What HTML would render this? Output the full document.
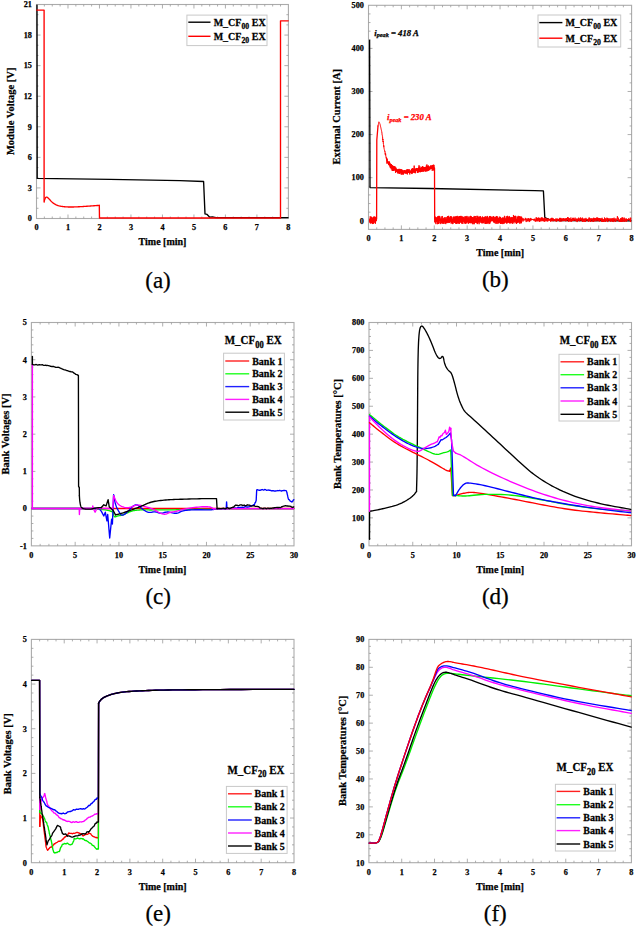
<!DOCTYPE html><html><head><meta charset="utf-8"><style>html,body{margin:0;padding:0;background:#fff;width:637px;height:927px;overflow:hidden}svg{display:block}text{font-family:"Liberation Serif",serif;stroke:currentColor;stroke-width:0.25px}.tl text{font-size:8.2px;font-weight:bold}.ax{font-size:10px;font-weight:bold}.lg{font-size:10px;font-weight:bold}.cap{font-size:23px}</style></head><body><svg width="637" height="927" viewBox="0 0 637 927">
<rect x="36.50" y="4.50" width="251.90" height="214.00" fill="none" stroke="#ababab" stroke-width="1.1"/>
<path d="M44.37 218.50v-2M44.37 4.50v2M52.24 218.50v-2M52.24 4.50v2M60.12 218.50v-2M60.12 4.50v2M67.99 218.50v-4M67.99 4.50v4M75.86 218.50v-2M75.86 4.50v2M83.73 218.50v-2M83.73 4.50v2M91.60 218.50v-2M91.60 4.50v2M99.47 218.50v-4M99.47 4.50v4M107.35 218.50v-2M107.35 4.50v2M115.22 218.50v-2M115.22 4.50v2M123.09 218.50v-2M123.09 4.50v2M130.96 218.50v-4M130.96 4.50v4M138.83 218.50v-2M138.83 4.50v2M146.71 218.50v-2M146.71 4.50v2M154.58 218.50v-2M154.58 4.50v2M162.45 218.50v-4M162.45 4.50v4M170.32 218.50v-2M170.32 4.50v2M178.19 218.50v-2M178.19 4.50v2M186.07 218.50v-2M186.07 4.50v2M193.94 218.50v-4M193.94 4.50v4M201.81 218.50v-2M201.81 4.50v2M209.68 218.50v-2M209.68 4.50v2M217.55 218.50v-2M217.55 4.50v2M225.42 218.50v-4M225.42 4.50v4M233.30 218.50v-2M233.30 4.50v2M241.17 218.50v-2M241.17 4.50v2M249.04 218.50v-2M249.04 4.50v2M256.91 218.50v-4M256.91 4.50v4M264.78 218.50v-2M264.78 4.50v2M272.66 218.50v-2M272.66 4.50v2M280.53 218.50v-2M280.53 4.50v2M36.50 208.31h2M288.40 208.31h-2M36.50 198.12h2M288.40 198.12h-2M36.50 187.93h4M288.40 187.93h-4M36.50 177.74h2M288.40 177.74h-2M36.50 167.55h2M288.40 167.55h-2M36.50 157.36h4M288.40 157.36h-4M36.50 147.17h2M288.40 147.17h-2M36.50 136.98h2M288.40 136.98h-2M36.50 126.79h4M288.40 126.79h-4M36.50 116.60h2M288.40 116.60h-2M36.50 106.40h2M288.40 106.40h-2M36.50 96.21h4M288.40 96.21h-4M36.50 86.02h2M288.40 86.02h-2M36.50 75.83h2M288.40 75.83h-2M36.50 65.64h4M288.40 65.64h-4M36.50 55.45h2M288.40 55.45h-2M36.50 45.26h2M288.40 45.26h-2M36.50 35.07h4M288.40 35.07h-4M36.50 24.88h2M288.40 24.88h-2M36.50 14.69h2M288.40 14.69h-2" stroke="#9a9a9a" stroke-width="0.8" fill="none"/>
<rect x="368.50" y="5.30" width="263.10" height="224.10" fill="none" stroke="#ababab" stroke-width="1.1"/>
<path d="M376.72 229.40v-2M376.72 5.30v2M384.94 229.40v-2M384.94 5.30v2M393.17 229.40v-2M393.17 5.30v2M401.39 229.40v-4M401.39 5.30v4M409.61 229.40v-2M409.61 5.30v2M417.83 229.40v-2M417.83 5.30v2M426.05 229.40v-2M426.05 5.30v2M434.27 229.40v-4M434.27 5.30v4M442.50 229.40v-2M442.50 5.30v2M450.72 229.40v-2M450.72 5.30v2M458.94 229.40v-2M458.94 5.30v2M467.16 229.40v-4M467.16 5.30v4M475.38 229.40v-2M475.38 5.30v2M483.61 229.40v-2M483.61 5.30v2M491.83 229.40v-2M491.83 5.30v2M500.05 229.40v-4M500.05 5.30v4M508.27 229.40v-2M508.27 5.30v2M516.49 229.40v-2M516.49 5.30v2M524.72 229.40v-2M524.72 5.30v2M532.94 229.40v-4M532.94 5.30v4M541.16 229.40v-2M541.16 5.30v2M549.38 229.40v-2M549.38 5.30v2M557.60 229.40v-2M557.60 5.30v2M565.83 229.40v-4M565.83 5.30v4M574.05 229.40v-2M574.05 5.30v2M582.27 229.40v-2M582.27 5.30v2M590.49 229.40v-2M590.49 5.30v2M598.71 229.40v-4M598.71 5.30v4M606.93 229.40v-2M606.93 5.30v2M615.16 229.40v-2M615.16 5.30v2M623.38 229.40v-2M623.38 5.30v2M368.50 220.78h4M631.60 220.78h-4M368.50 212.16h2M631.60 212.16h-2M368.50 203.54h2M631.60 203.54h-2M368.50 194.92h2M631.60 194.92h-2M368.50 186.30h2M631.60 186.30h-2M368.50 177.68h4M631.60 177.68h-4M368.50 169.07h2M631.60 169.07h-2M368.50 160.45h2M631.60 160.45h-2M368.50 151.83h2M631.60 151.83h-2M368.50 143.21h2M631.60 143.21h-2M368.50 134.59h4M631.60 134.59h-4M368.50 125.97h2M631.60 125.97h-2M368.50 117.35h2M631.60 117.35h-2M368.50 108.73h2M631.60 108.73h-2M368.50 100.11h2M631.60 100.11h-2M368.50 91.49h4M631.60 91.49h-4M368.50 82.87h2M631.60 82.87h-2M368.50 74.25h2M631.60 74.25h-2M368.50 65.63h2M631.60 65.63h-2M368.50 57.02h2M631.60 57.02h-2M368.50 48.40h4M631.60 48.40h-4M368.50 39.78h2M631.60 39.78h-2M368.50 31.16h2M631.60 31.16h-2M368.50 22.54h2M631.60 22.54h-2M368.50 13.92h2M631.60 13.92h-2" stroke="#9a9a9a" stroke-width="0.8" fill="none"/>
<rect x="31.40" y="322.50" width="262.60" height="223.35" fill="none" stroke="#ababab" stroke-width="1.1"/>
<path d="M40.15 545.85v-2M40.15 322.50v2M48.91 545.85v-2M48.91 322.50v2M57.66 545.85v-2M57.66 322.50v2M66.41 545.85v-2M66.41 322.50v2M75.17 545.85v-4M75.17 322.50v4M83.92 545.85v-2M83.92 322.50v2M92.67 545.85v-2M92.67 322.50v2M101.43 545.85v-2M101.43 322.50v2M110.18 545.85v-2M110.18 322.50v2M118.93 545.85v-4M118.93 322.50v4M127.69 545.85v-2M127.69 322.50v2M136.44 545.85v-2M136.44 322.50v2M145.19 545.85v-2M145.19 322.50v2M153.95 545.85v-2M153.95 322.50v2M162.70 545.85v-4M162.70 322.50v4M171.45 545.85v-2M171.45 322.50v2M180.21 545.85v-2M180.21 322.50v2M188.96 545.85v-2M188.96 322.50v2M197.71 545.85v-2M197.71 322.50v2M206.47 545.85v-4M206.47 322.50v4M215.22 545.85v-2M215.22 322.50v2M223.97 545.85v-2M223.97 322.50v2M232.73 545.85v-2M232.73 322.50v2M241.48 545.85v-2M241.48 322.50v2M250.23 545.85v-4M250.23 322.50v4M258.99 545.85v-2M258.99 322.50v2M267.74 545.85v-2M267.74 322.50v2M276.49 545.85v-2M276.49 322.50v2M285.25 545.85v-2M285.25 322.50v2M31.40 538.40h2M294.00 538.40h-2M31.40 530.96h2M294.00 530.96h-2M31.40 523.51h2M294.00 523.51h-2M31.40 516.07h2M294.00 516.07h-2M31.40 508.62h4M294.00 508.62h-4M31.40 501.18h2M294.00 501.18h-2M31.40 493.74h2M294.00 493.74h-2M31.40 486.29h2M294.00 486.29h-2M31.40 478.85h2M294.00 478.85h-2M31.40 471.40h4M294.00 471.40h-4M31.40 463.96h2M294.00 463.96h-2M31.40 456.51h2M294.00 456.51h-2M31.40 449.06h2M294.00 449.06h-2M31.40 441.62h2M294.00 441.62h-2M31.40 434.18h4M294.00 434.18h-4M31.40 426.73h2M294.00 426.73h-2M31.40 419.28h2M294.00 419.28h-2M31.40 411.84h2M294.00 411.84h-2M31.40 404.39h2M294.00 404.39h-2M31.40 396.95h4M294.00 396.95h-4M31.40 389.50h2M294.00 389.50h-2M31.40 382.06h2M294.00 382.06h-2M31.40 374.62h2M294.00 374.62h-2M31.40 367.17h2M294.00 367.17h-2M31.40 359.73h4M294.00 359.73h-4M31.40 352.28h2M294.00 352.28h-2M31.40 344.84h2M294.00 344.84h-2M31.40 337.39h2M294.00 337.39h-2M31.40 329.94h2M294.00 329.94h-2" stroke="#9a9a9a" stroke-width="0.8" fill="none"/>
<rect x="369.00" y="322.50" width="262.50" height="223.30" fill="none" stroke="#ababab" stroke-width="1.1"/>
<path d="M377.75 545.80v-2M377.75 322.50v2M386.50 545.80v-2M386.50 322.50v2M395.25 545.80v-2M395.25 322.50v2M404.00 545.80v-2M404.00 322.50v2M412.75 545.80v-4M412.75 322.50v4M421.50 545.80v-2M421.50 322.50v2M430.25 545.80v-2M430.25 322.50v2M439.00 545.80v-2M439.00 322.50v2M447.75 545.80v-2M447.75 322.50v2M456.50 545.80v-4M456.50 322.50v4M465.25 545.80v-2M465.25 322.50v2M474.00 545.80v-2M474.00 322.50v2M482.75 545.80v-2M482.75 322.50v2M491.50 545.80v-2M491.50 322.50v2M500.25 545.80v-4M500.25 322.50v4M509.00 545.80v-2M509.00 322.50v2M517.75 545.80v-2M517.75 322.50v2M526.50 545.80v-2M526.50 322.50v2M535.25 545.80v-2M535.25 322.50v2M544.00 545.80v-4M544.00 322.50v4M552.75 545.80v-2M552.75 322.50v2M561.50 545.80v-2M561.50 322.50v2M570.25 545.80v-2M570.25 322.50v2M579.00 545.80v-2M579.00 322.50v2M587.75 545.80v-4M587.75 322.50v4M596.50 545.80v-2M596.50 322.50v2M605.25 545.80v-2M605.25 322.50v2M614.00 545.80v-2M614.00 322.50v2M622.75 545.80v-2M622.75 322.50v2M369.00 538.82h2M631.50 538.82h-2M369.00 531.84h2M631.50 531.84h-2M369.00 524.87h2M631.50 524.87h-2M369.00 517.89h4M631.50 517.89h-4M369.00 510.91h2M631.50 510.91h-2M369.00 503.93h2M631.50 503.93h-2M369.00 496.95h2M631.50 496.95h-2M369.00 489.97h4M631.50 489.97h-4M369.00 483.00h2M631.50 483.00h-2M369.00 476.02h2M631.50 476.02h-2M369.00 469.04h2M631.50 469.04h-2M369.00 462.06h4M631.50 462.06h-4M369.00 455.08h2M631.50 455.08h-2M369.00 448.11h2M631.50 448.11h-2M369.00 441.13h2M631.50 441.13h-2M369.00 434.15h4M631.50 434.15h-4M369.00 427.17h2M631.50 427.17h-2M369.00 420.19h2M631.50 420.19h-2M369.00 413.22h2M631.50 413.22h-2M369.00 406.24h4M631.50 406.24h-4M369.00 399.26h2M631.50 399.26h-2M369.00 392.28h2M631.50 392.28h-2M369.00 385.30h2M631.50 385.30h-2M369.00 378.32h4M631.50 378.32h-4M369.00 371.35h2M631.50 371.35h-2M369.00 364.37h2M631.50 364.37h-2M369.00 357.39h2M631.50 357.39h-2M369.00 350.41h4M631.50 350.41h-4M369.00 343.43h2M631.50 343.43h-2M369.00 336.46h2M631.50 336.46h-2M369.00 329.48h2M631.50 329.48h-2" stroke="#9a9a9a" stroke-width="0.8" fill="none"/>
<rect x="31.40" y="639.40" width="262.60" height="223.30" fill="none" stroke="#ababab" stroke-width="1.1"/>
<path d="M39.61 862.70v-2M39.61 639.40v2M47.81 862.70v-2M47.81 639.40v2M56.02 862.70v-2M56.02 639.40v2M64.22 862.70v-4M64.22 639.40v4M72.43 862.70v-2M72.43 639.40v2M80.64 862.70v-2M80.64 639.40v2M88.84 862.70v-2M88.84 639.40v2M97.05 862.70v-4M97.05 639.40v4M105.26 862.70v-2M105.26 639.40v2M113.46 862.70v-2M113.46 639.40v2M121.67 862.70v-2M121.67 639.40v2M129.88 862.70v-4M129.88 639.40v4M138.08 862.70v-2M138.08 639.40v2M146.29 862.70v-2M146.29 639.40v2M154.49 862.70v-2M154.49 639.40v2M162.70 862.70v-4M162.70 639.40v4M170.91 862.70v-2M170.91 639.40v2M179.11 862.70v-2M179.11 639.40v2M187.32 862.70v-2M187.32 639.40v2M195.53 862.70v-4M195.53 639.40v4M203.73 862.70v-2M203.73 639.40v2M211.94 862.70v-2M211.94 639.40v2M220.14 862.70v-2M220.14 639.40v2M228.35 862.70v-4M228.35 639.40v4M236.56 862.70v-2M236.56 639.40v2M244.76 862.70v-2M244.76 639.40v2M252.97 862.70v-2M252.97 639.40v2M261.18 862.70v-4M261.18 639.40v4M269.38 862.70v-2M269.38 639.40v2M277.59 862.70v-2M277.59 639.40v2M285.79 862.70v-2M285.79 639.40v2M31.40 853.77h2M294.00 853.77h-2M31.40 844.84h2M294.00 844.84h-2M31.40 835.90h2M294.00 835.90h-2M31.40 826.97h2M294.00 826.97h-2M31.40 818.04h4M294.00 818.04h-4M31.40 809.11h2M294.00 809.11h-2M31.40 800.18h2M294.00 800.18h-2M31.40 791.24h2M294.00 791.24h-2M31.40 782.31h2M294.00 782.31h-2M31.40 773.38h4M294.00 773.38h-4M31.40 764.45h2M294.00 764.45h-2M31.40 755.52h2M294.00 755.52h-2M31.40 746.58h2M294.00 746.58h-2M31.40 737.65h2M294.00 737.65h-2M31.40 728.72h4M294.00 728.72h-4M31.40 719.79h2M294.00 719.79h-2M31.40 710.86h2M294.00 710.86h-2M31.40 701.92h2M294.00 701.92h-2M31.40 692.99h2M294.00 692.99h-2M31.40 684.06h4M294.00 684.06h-4M31.40 675.13h2M294.00 675.13h-2M31.40 666.20h2M294.00 666.20h-2M31.40 657.26h2M294.00 657.26h-2M31.40 648.33h2M294.00 648.33h-2" stroke="#9a9a9a" stroke-width="0.8" fill="none"/>
<rect x="368.90" y="639.40" width="262.50" height="223.30" fill="none" stroke="#ababab" stroke-width="1.1"/>
<path d="M377.10 862.70v-2M377.10 639.40v2M385.31 862.70v-2M385.31 639.40v2M393.51 862.70v-2M393.51 639.40v2M401.71 862.70v-4M401.71 639.40v4M409.92 862.70v-2M409.92 639.40v2M418.12 862.70v-2M418.12 639.40v2M426.32 862.70v-2M426.32 639.40v2M434.52 862.70v-4M434.52 639.40v4M442.73 862.70v-2M442.73 639.40v2M450.93 862.70v-2M450.93 639.40v2M459.13 862.70v-2M459.13 639.40v2M467.34 862.70v-4M467.34 639.40v4M475.54 862.70v-2M475.54 639.40v2M483.74 862.70v-2M483.74 639.40v2M491.95 862.70v-2M491.95 639.40v2M500.15 862.70v-4M500.15 639.40v4M508.35 862.70v-2M508.35 639.40v2M516.56 862.70v-2M516.56 639.40v2M524.76 862.70v-2M524.76 639.40v2M532.96 862.70v-4M532.96 639.40v4M541.17 862.70v-2M541.17 639.40v2M549.37 862.70v-2M549.37 639.40v2M557.57 862.70v-2M557.57 639.40v2M565.77 862.70v-4M565.77 639.40v4M573.98 862.70v-2M573.98 639.40v2M582.18 862.70v-2M582.18 639.40v2M590.38 862.70v-2M590.38 639.40v2M598.59 862.70v-4M598.59 639.40v4M606.79 862.70v-2M606.79 639.40v2M614.99 862.70v-2M614.99 639.40v2M623.20 862.70v-2M623.20 639.40v2M368.90 855.72h2M631.40 855.72h-2M368.90 848.74h2M631.40 848.74h-2M368.90 841.77h2M631.40 841.77h-2M368.90 834.79h4M631.40 834.79h-4M368.90 827.81h2M631.40 827.81h-2M368.90 820.83h2M631.40 820.83h-2M368.90 813.85h2M631.40 813.85h-2M368.90 806.88h4M631.40 806.88h-4M368.90 799.90h2M631.40 799.90h-2M368.90 792.92h2M631.40 792.92h-2M368.90 785.94h2M631.40 785.94h-2M368.90 778.96h4M631.40 778.96h-4M368.90 771.98h2M631.40 771.98h-2M368.90 765.01h2M631.40 765.01h-2M368.90 758.03h2M631.40 758.03h-2M368.90 751.05h4M631.40 751.05h-4M368.90 744.07h2M631.40 744.07h-2M368.90 737.09h2M631.40 737.09h-2M368.90 730.12h2M631.40 730.12h-2M368.90 723.14h4M631.40 723.14h-4M368.90 716.16h2M631.40 716.16h-2M368.90 709.18h2M631.40 709.18h-2M368.90 702.20h2M631.40 702.20h-2M368.90 695.23h4M631.40 695.23h-4M368.90 688.25h2M631.40 688.25h-2M368.90 681.27h2M631.40 681.27h-2M368.90 674.29h2M631.40 674.29h-2M368.90 667.31h4M631.40 667.31h-4M368.90 660.33h2M631.40 660.33h-2M368.90 653.36h2M631.40 653.36h-2M368.90 646.38h2M631.40 646.38h-2" stroke="#9a9a9a" stroke-width="0.8" fill="none"/>
<g class="tl">
<text x="36.50" y="230.30" text-anchor="middle">0</text>
<text x="67.99" y="230.30" text-anchor="middle">1</text>
<text x="99.47" y="230.30" text-anchor="middle">2</text>
<text x="130.96" y="230.30" text-anchor="middle">3</text>
<text x="162.45" y="230.30" text-anchor="middle">4</text>
<text x="193.94" y="230.30" text-anchor="middle">5</text>
<text x="225.42" y="230.30" text-anchor="middle">6</text>
<text x="256.91" y="230.30" text-anchor="middle">7</text>
<text x="288.40" y="230.30" text-anchor="middle">8</text>
<text x="31.90" y="221.30" text-anchor="end">0</text>
<text x="31.90" y="190.73" text-anchor="end">3</text>
<text x="31.90" y="160.16" text-anchor="end">6</text>
<text x="31.90" y="129.59" text-anchor="end">9</text>
<text x="31.90" y="99.01" text-anchor="end">12</text>
<text x="31.90" y="68.44" text-anchor="end">15</text>
<text x="31.90" y="37.87" text-anchor="end">18</text>
<text x="31.90" y="7.30" text-anchor="end">21</text>
</g>
<g class="tl">
<text x="368.50" y="241.20" text-anchor="middle">0</text>
<text x="401.39" y="241.20" text-anchor="middle">1</text>
<text x="434.27" y="241.20" text-anchor="middle">2</text>
<text x="467.16" y="241.20" text-anchor="middle">3</text>
<text x="500.05" y="241.20" text-anchor="middle">4</text>
<text x="532.94" y="241.20" text-anchor="middle">5</text>
<text x="565.83" y="241.20" text-anchor="middle">6</text>
<text x="598.71" y="241.20" text-anchor="middle">7</text>
<text x="631.60" y="241.20" text-anchor="middle">8</text>
<text x="363.90" y="223.58" text-anchor="end">0</text>
<text x="363.90" y="180.48" text-anchor="end">100</text>
<text x="363.90" y="137.39" text-anchor="end">200</text>
<text x="363.90" y="94.29" text-anchor="end">300</text>
<text x="363.90" y="51.20" text-anchor="end">400</text>
<text x="363.90" y="8.10" text-anchor="end">500</text>
</g>
<g class="tl">
<text x="31.40" y="557.65" text-anchor="middle">0</text>
<text x="75.17" y="557.65" text-anchor="middle">5</text>
<text x="118.93" y="557.65" text-anchor="middle">10</text>
<text x="162.70" y="557.65" text-anchor="middle">15</text>
<text x="206.47" y="557.65" text-anchor="middle">20</text>
<text x="250.23" y="557.65" text-anchor="middle">25</text>
<text x="294.00" y="557.65" text-anchor="middle">30</text>
<text x="26.80" y="548.65" text-anchor="end">-1</text>
<text x="26.80" y="511.43" text-anchor="end">0</text>
<text x="26.80" y="474.20" text-anchor="end">1</text>
<text x="26.80" y="436.98" text-anchor="end">2</text>
<text x="26.80" y="399.75" text-anchor="end">3</text>
<text x="26.80" y="362.53" text-anchor="end">4</text>
<text x="26.80" y="325.30" text-anchor="end">5</text>
</g>
<g class="tl">
<text x="369.00" y="557.60" text-anchor="middle">0</text>
<text x="412.75" y="557.60" text-anchor="middle">5</text>
<text x="456.50" y="557.60" text-anchor="middle">10</text>
<text x="500.25" y="557.60" text-anchor="middle">15</text>
<text x="544.00" y="557.60" text-anchor="middle">20</text>
<text x="587.75" y="557.60" text-anchor="middle">25</text>
<text x="631.50" y="557.60" text-anchor="middle">30</text>
<text x="364.40" y="548.60" text-anchor="end">0</text>
<text x="364.40" y="520.69" text-anchor="end">100</text>
<text x="364.40" y="492.77" text-anchor="end">200</text>
<text x="364.40" y="464.86" text-anchor="end">300</text>
<text x="364.40" y="436.95" text-anchor="end">400</text>
<text x="364.40" y="409.04" text-anchor="end">500</text>
<text x="364.40" y="381.12" text-anchor="end">600</text>
<text x="364.40" y="353.21" text-anchor="end">700</text>
<text x="364.40" y="325.30" text-anchor="end">800</text>
</g>
<g class="tl">
<text x="31.40" y="874.50" text-anchor="middle">0</text>
<text x="64.22" y="874.50" text-anchor="middle">1</text>
<text x="97.05" y="874.50" text-anchor="middle">2</text>
<text x="129.88" y="874.50" text-anchor="middle">3</text>
<text x="162.70" y="874.50" text-anchor="middle">4</text>
<text x="195.53" y="874.50" text-anchor="middle">5</text>
<text x="228.35" y="874.50" text-anchor="middle">6</text>
<text x="261.18" y="874.50" text-anchor="middle">7</text>
<text x="294.00" y="874.50" text-anchor="middle">8</text>
<text x="26.80" y="865.50" text-anchor="end">0</text>
<text x="26.80" y="820.84" text-anchor="end">1</text>
<text x="26.80" y="776.18" text-anchor="end">2</text>
<text x="26.80" y="731.52" text-anchor="end">3</text>
<text x="26.80" y="686.86" text-anchor="end">4</text>
<text x="26.80" y="642.20" text-anchor="end">5</text>
</g>
<g class="tl">
<text x="368.90" y="874.50" text-anchor="middle">0</text>
<text x="401.71" y="874.50" text-anchor="middle">1</text>
<text x="434.52" y="874.50" text-anchor="middle">2</text>
<text x="467.34" y="874.50" text-anchor="middle">3</text>
<text x="500.15" y="874.50" text-anchor="middle">4</text>
<text x="532.96" y="874.50" text-anchor="middle">5</text>
<text x="565.77" y="874.50" text-anchor="middle">6</text>
<text x="598.59" y="874.50" text-anchor="middle">7</text>
<text x="631.40" y="874.50" text-anchor="middle">8</text>
<text x="364.30" y="865.50" text-anchor="end">10</text>
<text x="364.30" y="837.59" text-anchor="end">20</text>
<text x="364.30" y="809.67" text-anchor="end">30</text>
<text x="364.30" y="781.76" text-anchor="end">40</text>
<text x="364.30" y="753.85" text-anchor="end">50</text>
<text x="364.30" y="725.94" text-anchor="end">60</text>
<text x="364.30" y="698.02" text-anchor="end">70</text>
<text x="364.30" y="670.11" text-anchor="end">80</text>
<text x="364.30" y="642.20" text-anchor="end">90</text>
</g>
<path d="M37.00 5.20 L37.20 178.40 L110.00 179.40 L180.00 180.60 L203.60 181.50 L205.00 213.90 L206.90 214.30 L209.70 217.20 L212.50 216.90 L216.00 217.60 L288.00 217.60" stroke="#000000" stroke-width="1.35" fill="none" stroke-linejoin="round" stroke-linecap="round"/>
<path d="M36.80 10.10 L44.10 10.10 L44.10 202.10 L44.60 199.50" stroke="#ff0000" stroke-width="1.35" fill="none" stroke-linejoin="round" stroke-linecap="round"/>
<path d="M44.60 199.50 L44.63 199.45 L44.68 199.35 L44.76 199.21 L44.87 199.02 L45.00 198.77 L45.16 198.48 L45.34 198.14 L45.56 197.76 L45.78 197.45 L46.03 197.24 L46.29 197.11 L46.56 197.07 L46.85 197.11 L47.16 197.24 L47.48 197.45 L47.82 197.75 L48.16 198.07 L48.51 198.40 L48.86 198.74 L49.22 199.11 L49.58 199.48 L49.94 199.88 L50.31 200.29 L50.69 200.71 L51.06 201.12 L51.44 201.51 L51.82 201.87 L52.20 202.22 L52.59 202.56 L52.97 202.87 L53.36 203.16 L53.74 203.44 L54.14 203.70 L54.53 203.95 L54.93 204.19 L55.34 204.41 L55.75 204.62 L56.17 204.83 L56.59 205.01 L57.01 205.19 L57.45 205.35 L57.90 205.51 L58.36 205.66 L58.84 205.79 L59.32 205.92 L59.82 206.04 L60.34 206.15 L60.86 206.25 L61.40 206.34 L61.95 206.43 L62.51 206.51 L63.09 206.59 L63.68 206.66 L64.28 206.72 L64.89 206.77 L65.51 206.83 L66.16 206.87 L66.82 206.91 L67.51 206.94 L68.22 206.96 L68.94 206.98 L69.69 206.99 L70.46 207.00 L71.24 207.00 L72.03 207.00 L72.81 206.99 L73.60 206.97 L74.38 206.95 L75.16 206.93 L75.94 206.90 L76.71 206.87 L77.49 206.83 L78.32 206.79 L79.21 206.74 L80.15 206.68 L81.15 206.62 L82.21 206.55 L83.32 206.47 L84.49 206.39 L85.71 206.31 L86.93 206.22 L88.13 206.14 L89.32 206.05 L90.50 205.97 L91.67 205.89 L92.83 205.81 L93.98 205.74 L95.12 205.66 L96.11 205.60 L96.97 205.54 L97.68 205.49 L98.25 205.46 L98.67 205.43 L98.96 205.41 L99.10 205.40" stroke="#ff0000" stroke-width="1.35" fill="none" stroke-linejoin="round" stroke-linecap="round"/>
<path d="M99.30 205.30 L99.50 218.00 L280.50 218.00 L280.50 20.80 L288.20 20.80" stroke="#ff0000" stroke-width="1.35" fill="none" stroke-linejoin="round" stroke-linecap="round"/>
<path d="M369.60 40.30 L370.00 187.60 L430.00 188.50 L535.00 190.60 L543.40 190.80 L544.80 217.50 L551.80 220.50 L631.00 220.80" stroke="#000000" stroke-width="1.35" fill="none" stroke-linejoin="round" stroke-linecap="round"/>
<path d="M369.50 221.15 L369.65 218.72 L369.80 222.70 L369.95 220.15 L370.10 221.24 L370.25 216.22 L370.40 223.55 L370.55 217.64 L370.70 222.74 L370.85 218.11 L371.00 222.89 L371.15 217.17 L371.30 221.41 L371.45 216.74 L371.60 223.08 L371.75 217.34 L371.90 221.78 L372.05 218.42 L372.20 223.72 L372.35 219.66 L372.50 224.06 L372.65 217.69 L372.80 222.23 L372.95 218.80 L373.10 222.54 L373.25 217.47 L373.40 223.63 L373.55 217.51 L373.70 223.64 L373.85 216.58 L374.00 223.06 L374.15 216.87 L374.30 221.34 L374.45 216.78 L374.60 220.55 L374.75 218.56 L374.90 221.38 L375.05 216.71 L375.20 222.66 L375.35 217.33 L375.50 223.72 L375.65 218.18 L375.80 221.44 L375.95 217.80 L376.10 220.99 L376.25 217.76 L376.40 220.37" stroke="#ff0000" stroke-width="0.9" fill="none" stroke-linejoin="round" stroke-linecap="round"/>
<path d="M376.60 219.00 L376.80 140.00 L378.00 126.00" stroke="#ff0000" stroke-width="1.3" fill="none" stroke-linejoin="round" stroke-linecap="round"/>
<path d="M378.00 126.00 L378.18 125.16 L378.36 124.32 L378.54 123.48 L378.72 122.64 L378.90 121.80 L379.06 122.11 L379.21 122.43 L379.37 122.74 L379.53 123.06 L379.69 123.37 L379.84 123.69 L380.00 124.00 L380.15 124.67 L380.30 125.33 L380.45 126.00 L380.60 126.67 L380.75 127.33 L380.90 128.00 L381.05 128.67 L381.20 129.33 L381.35 130.00 L381.50 130.67 L381.65 131.33 L381.80 132.00 L381.96 133.14 L382.11 134.91 L382.27 135.20 L382.43 136.63 L382.59 136.57 L382.74 140.17 L382.90 138.96 L383.06 142.01 L383.21 141.03 L383.37 144.14 L383.53 144.48 L383.69 146.68 L383.84 145.62 L384.00 148.58 L384.15 148.62 L384.30 149.55 L384.45 149.86 L384.60 150.79 L384.75 150.66 L384.90 152.02 L385.05 151.73 L385.20 154.43 L385.35 153.43 L385.50 155.04 L385.65 153.71 L385.80 156.06 L385.95 156.10 L386.10 157.98 L386.25 157.74 L386.40 158.95 L386.55 157.62 L386.70 160.47 L386.85 159.34 L387.00 163.70 L387.15 158.58 L387.30 162.58 L387.45 161.30 L387.61 162.00 L387.76 161.39 L387.91 163.24 L388.06 162.42 L388.21 162.93 L388.36 162.75 L388.52 164.87 L388.67 162.48 L388.82 164.53 L388.97 161.09 L389.12 165.24 L389.27 163.79 L389.42 165.28 L389.58 161.96 L389.73 164.72 L389.88 163.27 L390.03 166.69 L390.18 163.68 L390.33 168.06 L390.48 164.89 L390.64 166.37 L390.79 164.48 L390.94 167.27 L391.09 164.05 L391.24 169.24 L391.39 164.43 L391.55 167.77 L391.70 166.23 L391.85 167.58 L392.00 166.92 L392.15 170.66 L392.31 165.08 L392.46 170.85 L392.61 167.42 L392.76 168.76 L392.92 166.40 L393.07 170.88 L393.22 166.50 L393.37 168.81 L393.53 165.92 L393.68 170.99 L393.83 168.30 L393.98 169.93 L394.14 166.11 L394.29 170.33 L394.44 167.04 L394.59 169.69 L394.75 166.69 L394.90 169.94 L395.05 166.65 L395.21 170.74 L395.36 169.39 L395.51 172.79 L395.66 168.39 L395.82 171.37 L395.97 167.68 L396.12 171.01 L396.27 169.63 L396.43 171.23 L396.58 170.15 L396.73 171.70 L396.88 168.98 L397.04 172.09 L397.19 169.42 L397.34 172.59 L397.49 169.79 L397.65 171.22 L397.80 170.78 L397.95 173.51 L398.10 170.39 L398.25 173.07 L398.41 171.12 L398.56 172.21 L398.71 169.18 L398.86 173.22 L399.01 168.83 L399.16 173.44 L399.31 170.10 L399.46 173.02 L399.62 170.27 L399.77 173.83 L399.92 168.94 L400.07 173.48 L400.22 169.31 L400.37 172.23 L400.52 171.68 L400.67 172.15 L400.83 169.61 L400.98 172.46 L401.13 170.05 L401.28 174.72 L401.43 171.44 L401.58 173.33 L401.73 169.20 L401.88 172.68 L402.04 170.69 L402.19 172.85 L402.34 170.13 L402.49 174.00 L402.64 172.31 L402.79 174.27 L402.94 172.24 L403.09 174.83 L403.25 172.19 L403.40 172.65 L403.55 171.76 L403.70 173.87 L403.85 170.12 L404.00 172.99 L404.16 170.81 L404.31 172.76 L404.46 170.40 L404.61 172.65 L404.76 170.51 L404.92 172.63 L405.07 172.16 L405.22 173.69 L405.37 170.64 L405.52 173.08 L405.68 170.67 L405.83 172.55 L405.98 172.04 L406.13 173.10 L406.29 169.86 L406.44 173.61 L406.59 171.04 L406.74 172.81 L406.89 169.83 L407.05 172.57 L407.20 169.17 L407.35 174.41 L407.50 170.44 L407.65 173.08 L407.81 169.81 L407.96 172.87 L408.11 169.69 L408.26 173.00 L408.41 171.60 L408.57 171.95 L408.72 170.94 L408.87 171.93 L409.02 169.04 L409.18 172.47 L409.33 170.72 L409.48 172.04 L409.63 170.75 L409.78 174.43 L409.94 170.76 L410.09 172.39 L410.24 171.43 L410.39 172.83 L410.54 170.78 L410.70 171.37 L410.85 171.06 L411.00 171.43 L411.15 170.35 L411.30 172.99 L411.45 168.95 L411.61 173.31 L411.76 169.96 L411.91 174.05 L412.06 168.89 L412.21 171.16 L412.36 168.32 L412.52 173.17 L412.67 170.52 L412.82 172.41 L412.97 168.45 L413.12 172.59 L413.27 168.75 L413.42 171.46 L413.58 170.33 L413.73 171.01 L413.88 168.99 L414.03 172.51 L414.18 165.61 L414.33 172.81 L414.48 168.93 L414.64 170.70 L414.79 169.71 L414.94 171.23 L415.09 169.78 L415.24 173.29 L415.39 169.19 L415.55 172.35 L415.70 168.42 L415.85 170.47 L416.00 169.44 L416.15 171.08 L416.30 170.10 L416.45 170.91 L416.61 167.99 L416.76 170.91 L416.91 168.61 L417.06 170.32 L417.21 169.34 L417.36 172.71 L417.52 168.49 L417.67 172.74 L417.82 168.99 L417.97 172.60 L418.12 167.99 L418.27 171.27 L418.42 169.27 L418.58 171.16 L418.73 167.49 L418.88 172.26 L419.03 165.30 L419.18 170.85 L419.33 169.04 L419.48 170.38 L419.64 169.39 L419.79 171.88 L419.94 166.55 L420.09 172.00 L420.24 168.15 L420.39 172.23 L420.55 168.12 L420.70 169.99 L420.85 168.83 L421.00 169.96 L421.15 168.34 L421.30 170.60 L421.46 167.93 L421.61 171.69 L421.76 167.13 L421.91 171.83 L422.06 166.83 L422.21 171.17 L422.37 166.70 L422.52 169.80 L422.67 166.14 L422.82 170.32 L422.97 168.00 L423.12 171.80 L423.28 166.89 L423.43 170.51 L423.58 168.32 L423.73 169.43 L423.88 167.30 L424.03 171.50 L424.19 167.41 L424.34 169.32 L424.49 167.70 L424.64 169.43 L424.79 166.99 L424.94 170.93 L425.10 167.42 L425.25 169.78 L425.40 168.45 L425.55 171.52 L425.70 167.09 L425.86 171.17 L426.01 167.76 L426.16 169.75 L426.31 165.67 L426.46 171.14 L426.61 168.41 L426.77 171.18 L426.92 164.49 L427.07 171.24 L427.22 165.87 L427.37 169.17 L427.52 167.94 L427.68 170.44 L427.83 166.21 L427.98 170.65 L428.13 166.69 L428.28 170.67 L428.43 165.55 L428.59 169.21 L428.74 167.52 L428.89 170.36 L429.04 168.04 L429.19 169.98 L429.34 167.54 L429.50 168.23 L429.65 166.80 L429.80 170.10 L429.95 166.72 L430.10 168.88 L430.26 166.00 L430.41 168.17 L430.56 166.06 L430.71 168.84 L430.86 165.28 L431.01 168.14 L431.17 166.76 L431.32 168.60 L431.47 165.77 L431.62 168.59 L431.77 167.02 L431.92 168.63 L432.08 165.64 L432.23 170.76 L432.38 167.33 L432.53 169.13 L432.68 165.01 L432.83 169.03 L432.99 164.91 L433.14 167.97 L433.29 166.62 L433.44 170.43 L433.59 164.77 L433.74 168.74 L433.90 164.92 L434.05 167.81" stroke="#ff0000" stroke-width="1.0" fill="none" stroke-linejoin="round" stroke-linecap="round"/>
<path d="M434.50 168.00 L434.70 219.00" stroke="#ff0000" stroke-width="1.3" fill="none" stroke-linejoin="round" stroke-linecap="round"/>
<path d="M434.70 221.90 L434.85 216.12 L435.00 222.13 L435.15 219.22 L435.30 222.65 L435.45 219.60 L435.60 220.38 L435.75 217.09 L435.90 224.13 L436.05 217.25 L436.20 220.66 L436.35 217.78 L436.50 220.80 L436.65 219.87 L436.80 221.85 L436.95 217.82 L437.10 222.10 L437.25 218.08 L437.40 224.19 L437.55 216.47 L437.70 221.32 L437.85 218.79 L438.00 223.22 L438.15 216.44 L438.30 224.02 L438.45 220.00 L438.60 223.82 L438.75 215.88 L438.90 220.31 L439.05 216.73 L439.20 220.37 L439.35 215.95 L439.50 220.50 L439.65 219.58 L439.80 223.35 L439.95 217.65 L440.10 220.80 L440.25 219.45 L440.40 220.49 L440.55 219.11 L440.70 224.08 L440.85 218.72 L441.00 220.88 L441.15 216.41 L441.30 220.42 L441.45 219.10 L441.60 223.25 L441.75 218.76 L441.90 220.38 L442.05 218.98 L442.20 221.56 L442.35 215.97 L442.50 222.41 L442.65 219.23 L442.80 223.82 L442.95 218.95 L443.10 223.11 L443.25 219.17 L443.40 223.71 L443.55 218.23 L443.70 220.16 L443.85 219.00 L444.00 221.08 L444.15 217.49 L444.30 220.74 L444.45 219.71 L444.60 222.35 L444.75 217.42 L444.90 223.85 L445.05 219.93 L445.20 221.87 L445.35 219.26 L445.50 222.40 L445.65 218.48 L445.80 224.12 L445.95 217.10 L446.10 220.59 L446.25 219.92 L446.40 222.94 L446.55 219.91 L446.70 222.03 L446.85 218.66 L447.00 220.32 L447.15 216.90 L447.30 223.10 L447.45 216.67 L447.60 221.48 L447.75 216.22 L447.90 221.75 L448.05 216.37 L448.20 222.62 L448.35 217.55 L448.50 220.34 L448.65 215.83 L448.80 223.06 L448.95 216.91 L449.10 221.85 L449.25 219.65 L449.40 220.13 L449.55 217.98 L449.70 222.93 L449.85 217.42 L450.00 221.07 L450.15 218.74 L450.30 220.85 L450.45 216.20 L450.60 221.86 L450.75 218.63 L450.90 220.83 L451.05 216.61 L451.20 223.70 L451.35 217.55 L451.50 220.57 L451.65 216.48 L451.80 222.99 L451.95 218.84 L452.10 221.89 L452.25 219.10 L452.40 222.63 L452.55 218.68 L452.70 224.12 L452.85 219.69 L453.00 223.67 L453.15 217.02 L453.30 221.30 L453.45 219.92 L453.60 221.91 L453.75 216.52 L453.90 220.59 L454.05 217.36 L454.20 222.65 L454.35 216.61 L454.50 222.87 L454.65 218.00 L454.80 220.05 L454.95 217.00 L455.10 221.14 L455.25 217.07 L455.40 222.58 L455.55 218.35 L455.70 223.81 L455.85 216.08 L456.00 220.55 L456.15 217.37 L456.30 221.58 L456.45 216.31 L456.60 223.97 L456.75 217.26 L456.90 223.03 L457.05 217.31 L457.20 220.90 L457.35 215.88 L457.50 222.26 L457.65 218.65 L457.80 223.59 L457.95 219.65 L458.10 222.31 L458.25 217.95 L458.40 223.40 L458.55 216.64 L458.70 221.41 L458.85 219.41 L459.00 222.17 L459.15 216.47 L459.30 223.97 L459.45 216.01 L459.60 220.93 L459.75 218.78 L459.90 222.68 L460.05 216.46 L460.20 221.31 L460.35 216.45 L460.50 220.87 L460.65 215.93 L460.80 222.41 L460.95 217.75 L461.10 222.54 L461.25 215.93 L461.40 221.68 L461.55 217.64 L461.70 222.90 L461.85 217.74 L462.00 224.02 L462.15 218.87 L462.30 220.53 L462.45 216.57 L462.60 222.00 L462.75 219.20 L462.90 223.89 L463.05 216.73 L463.20 220.82 L463.35 217.11 L463.50 221.49 L463.65 219.56 L463.80 220.52 L463.95 218.95 L464.10 222.23 L464.25 218.42 L464.40 222.22 L464.55 219.14 L464.70 222.68 L464.85 216.42 L465.00 223.60 L465.15 216.89 L465.30 223.79 L465.45 218.68 L465.60 220.92 L465.75 216.27 L465.90 221.01 L466.05 218.91 L466.20 223.50 L466.35 216.68 L466.50 221.69 L466.65 219.93 L466.80 222.87 L466.95 215.93 L467.10 222.12 L467.25 217.89 L467.40 220.79 L467.55 219.55 L467.70 222.32 L467.85 217.61 L468.00 220.78 L468.15 216.47 L468.30 223.89 L468.45 219.74 L468.60 221.94 L468.75 218.63 L468.90 222.16 L469.05 217.48 L469.20 222.94 L469.35 219.24 L469.50 223.11 L469.65 219.18 L469.80 222.15 L469.95 216.25 L470.10 222.96 L470.25 217.36 L470.40 222.52 L470.55 215.87 L470.70 221.08 L470.85 216.87 L471.00 223.42 L471.15 216.23 L471.30 222.92 L471.45 216.79 L471.60 223.04 L471.75 218.56 L471.90 220.04 L472.05 217.32 L472.20 220.97 L472.35 217.20 L472.50 222.77 L472.65 217.76 L472.80 224.20 L472.95 217.05 L473.10 224.12 L473.25 217.42 L473.40 221.08 L473.55 219.79 L473.70 221.58 L473.85 218.95 L474.00 222.31 L474.15 215.94 L474.30 224.18 L474.45 216.60 L474.60 222.51 L474.75 219.81 L474.90 220.67 L475.05 219.29 L475.20 222.57 L475.35 216.03 L475.50 222.21 L475.65 218.46 L475.80 222.75 L475.95 218.81 L476.10 221.24 L476.25 218.97 L476.40 220.66 L476.55 218.36 L476.70 223.14 L476.85 215.85 L477.00 220.31 L477.15 218.20 L477.30 224.09 L477.45 217.80 L477.60 223.04 L477.75 215.89 L477.90 222.54 L478.05 217.38 L478.20 220.86 L478.35 217.78 L478.50 221.86 L478.65 218.09 L478.80 222.45 L478.95 216.73 L479.10 224.19 L479.25 216.92 L479.40 220.48 L479.55 216.71 L479.70 221.51 L479.85 217.12 L480.00 222.49 L480.15 216.84 L480.30 221.05 L480.45 216.15 L480.60 220.17 L480.75 218.86 L480.90 222.62 L481.05 217.73 L481.20 220.36 L481.35 217.69 L481.50 221.57 L481.65 219.12 L481.80 223.13 L481.95 219.69 L482.10 223.40 L482.25 216.77 L482.40 221.78 L482.55 216.60 L482.70 222.75 L482.85 218.63 L483.00 223.13 L483.15 218.20 L483.30 220.41 L483.45 219.67 L483.60 222.37 L483.75 217.12 L483.90 223.26 L484.05 219.10 L484.20 220.34 L484.35 216.96 L484.50 221.19 L484.65 218.50 L484.80 221.54 L484.95 217.02 L485.10 223.86 L485.25 216.16 L485.40 223.37 L485.55 218.67 L485.70 223.93 L485.85 218.96 L486.00 221.54 L486.15 218.34 L486.30 220.82 L486.45 216.65 L486.60 223.51 L486.75 219.26 L486.90 223.70 L487.05 219.91 L487.20 222.29 L487.35 215.94 L487.50 223.38 L487.65 217.70 L487.80 220.35 L487.95 216.90 L488.10 220.36 L488.25 219.40 L488.40 222.73 L488.55 219.07 L488.70 222.19 L488.85 218.34 L489.00 224.07 L489.15 217.93 L489.30 223.03 L489.45 216.16 L489.60 223.47 L489.75 216.42 L489.90 223.50 L490.05 215.98 L490.20 222.20 L490.35 216.63 L490.50 221.77 L490.65 216.89 L490.80 221.58 L490.95 219.14 L491.10 221.23 L491.25 219.75 L491.40 220.48 L491.55 216.74 L491.70 220.26 L491.85 217.55 L492.00 220.15 L492.15 219.22 L492.30 220.99 L492.45 217.50 L492.60 220.78 L492.75 219.28 L492.90 221.31 L493.05 216.57 L493.20 221.09 L493.35 216.16 L493.50 222.30 L493.65 217.97 L493.80 220.21 L493.95 216.63 L494.10 222.22 L494.25 218.85 L494.40 222.76 L494.55 219.95 L494.70 221.56 L494.85 217.00 L495.00 220.66 L495.15 218.65 L495.30 223.65 L495.45 217.32 L495.60 221.12 L495.75 219.37 L495.90 220.01 L496.05 216.45 L496.20 220.35 L496.35 216.99 L496.50 222.02 L496.65 215.99 L496.80 223.60 L496.95 216.68 L497.10 223.85 L497.25 216.53 L497.40 222.28 L497.55 219.34 L497.70 221.31 L497.85 219.68 L498.00 221.96 L498.15 218.49 L498.30 220.44 L498.45 218.06 L498.60 223.48 L498.75 219.95 L498.90 222.98 L499.05 217.63 L499.20 220.04 L499.35 216.64 L499.50 222.59 L499.65 218.42 L499.80 221.25 L499.95 218.35 L500.10 221.08 L500.25 216.93 L500.40 223.97 L500.55 216.96 L500.70 223.47 L500.85 219.41 L501.00 222.85 L501.15 219.24 L501.30 223.52 L501.45 219.62 L501.60 220.66 L501.75 218.29 L501.90 223.87 L502.05 217.85 L502.20 223.22 L502.35 218.38 L502.50 221.73 L502.65 218.32 L502.80 224.12 L502.95 217.23 L503.10 220.08 L503.25 218.56 L503.40 220.45 L503.55 217.86 L503.70 223.47 L503.85 219.33 L504.00 223.79 L504.15 218.52 L504.30 220.60 L504.45 215.86 L504.60 223.00 L504.75 219.17 L504.90 222.63 L505.05 219.65 L505.20 222.42 L505.35 218.62 L505.50 221.52 L505.65 219.48 L505.80 220.57 L505.95 217.72 L506.10 222.35 L506.25 216.18 L506.40 223.43 L506.55 219.48 L506.70 221.21 L506.85 218.99 L507.00 223.49 L507.15 217.70 L507.30 220.13 L507.45 215.85 L507.60 222.77 L507.75 217.18 L507.90 221.60 L508.05 216.62 L508.20 220.84 L508.35 219.40 L508.50 222.39 L508.65 217.82 L508.80 222.39 L508.95 217.30 L509.10 222.82 L509.25 215.97 L509.40 221.97 L509.55 217.38 L509.70 223.18 L509.85 217.96 L510.00 223.52 L510.15 218.28 L510.30 222.38 L510.45 217.79 L510.60 221.82 L510.75 218.65 L510.90 223.05 L511.05 216.93 L511.20 223.16 L511.35 217.51 L511.50 220.52 L511.65 217.89 L511.80 220.22 L511.95 217.79 L512.10 221.29 L512.25 219.01 L512.40 223.83 L512.55 217.20 L512.70 221.77 L512.85 219.07 L513.00 222.38 L513.15 219.59 L513.30 220.52 L513.45 214.98 L513.60 221.26 L513.75 219.74 L513.90 223.42 L514.05 218.50 L514.20 220.19 L514.35 216.23 L514.50 222.09 L514.65 215.90 L514.80 220.87 L514.95 216.12 L515.10 220.82 L515.25 218.51 L515.40 220.72 L515.55 215.82 L515.70 222.66 L515.85 216.30 L516.00 220.45 L516.15 218.69 L516.30 223.65 L516.45 219.43 L516.60 223.94 L516.75 219.67 L516.90 221.29 L517.05 219.17 L517.20 220.99 L517.35 216.68 L517.50 222.78 L517.65 217.52 L517.80 221.26 L517.95 217.20 L518.10 222.69 L518.25 215.87 L518.40 222.22 L518.55 219.81 L518.70 221.20 L518.85 216.63 L519.00 221.20 L519.15 218.97 L519.30 222.30 L519.45 216.23 L519.60 220.14 L519.75 216.85 L519.90 223.90 L520.05 219.24 L520.20 222.71 L520.35 217.24 L520.50 222.17 L520.65 216.45 L520.80 222.19 L520.95 219.27 L521.10 220.69 L521.25 219.01 L521.40 223.25 L521.55 216.68 L521.70 222.05 L521.85 217.56 L522.00 220.15" stroke="#ff0000" stroke-width="0.9" fill="none" stroke-linejoin="round" stroke-linecap="round"/>
<path d="M522.00 220.89 L522.30 218.27 L522.60 219.82 L522.90 219.17 L523.20 221.39 L523.50 218.52 L523.80 220.13 L524.10 219.43 L524.40 219.94 L524.70 219.63 L525.00 220.58 L525.30 217.86 L525.60 219.94 L525.90 218.63 L526.20 222.07 L526.50 219.54 L526.80 220.11 L527.10 218.37 L527.40 221.40 L527.70 219.41 L528.00 220.72 L528.30 218.43 L528.60 220.68 L528.90 218.13 L529.20 222.05 L529.50 218.98 L529.80 221.39 L530.10 219.54 L530.40 220.64 L530.70 217.94 L531.00 219.86 L531.30 218.81 L531.60 220.31 L531.90 218.91 L532.20 220.04 L532.50 219.39 L532.80 219.88 L533.10 219.01 L533.40 219.92 L533.70 219.32 L534.00 220.90 L534.30 218.69 L534.60 220.19 L534.90 218.96 L535.20 221.52 L535.50 219.78 L535.80 221.57 L536.10 217.43 L536.40 221.22 L536.70 217.50 L537.00 219.85 L537.30 217.99 L537.60 221.27 L537.90 218.59 L538.20 221.24 L538.50 217.62 L538.80 220.17 L539.10 217.79 L539.40 221.97 L539.70 218.20 L540.00 220.29 L540.30 219.21 L540.60 221.40 L540.90 217.76 L541.20 220.35 L541.50 217.55 L541.80 221.24 L542.10 217.59 L542.40 220.76 L542.70 217.73 L543.00 221.13 L543.30 218.95 L543.60 221.10 L543.90 218.17 L544.20 221.63 L544.50 217.71 L544.80 221.61 L545.10 219.57 L545.40 220.52 L545.70 218.22 L546.00 221.23 L546.30 218.57 L546.60 220.71 L546.90 218.86 L547.20 221.38 L547.50 219.59 L547.80 221.40 L548.10 218.28 L548.40 220.64 L548.70 218.68 L549.00 220.21 L549.30 219.02 L549.60 220.55 L549.90 219.78 L550.20 220.44 L550.50 218.81 L550.80 221.91 L551.10 218.19 L551.40 220.87 L551.70 217.86 L552.00 220.86 L552.30 217.89 L552.60 221.04 L552.90 218.89 L553.20 221.33 L553.50 218.53 L553.80 220.61 L554.10 219.06 L554.40 220.63 L554.70 219.49 L555.00 221.05 L555.30 219.69 L555.60 220.46 L555.90 218.42 L556.20 221.81 L556.50 219.06 L556.80 221.27 L557.10 218.40 L557.40 220.75 L557.70 219.19 L558.00 220.67 L558.30 218.88 L558.60 220.19 L558.90 219.21 L559.20 221.00 L559.50 217.88 L559.80 221.69 L560.10 218.11 L560.40 220.12 L560.70 217.88 L561.00 221.82 L561.30 219.09 L561.60 220.19 L561.90 218.15 L562.20 220.24 L562.50 219.08 L562.80 221.20 L563.10 218.22 L563.40 220.83 L563.70 218.30 L564.00 220.96 L564.30 218.73 L564.60 220.69 L564.90 218.61 L565.20 220.44 L565.50 218.67 L565.80 221.39 L566.10 218.23 L566.40 220.73 L566.70 218.07 L567.00 220.10 L567.30 219.55 L567.60 217.04 L567.90 219.54 L568.20 221.22 L568.50 217.59 L568.80 221.98 L569.10 219.28 L569.40 220.89 L569.70 218.06 L570.00 221.05 L570.30 219.24 L570.60 221.20 L570.90 217.53 L571.20 221.95 L571.50 219.11 L571.80 221.18 L572.10 219.77 L572.40 220.91 L572.70 217.90 L573.00 220.58 L573.30 217.82 L573.60 220.92 L573.90 218.36 L574.20 220.63 L574.50 218.91 L574.80 220.09 L575.10 217.61 L575.40 220.38 L575.70 219.56 L576.00 221.25 L576.30 218.54 L576.60 221.13 L576.90 219.09 L577.20 222.09 L577.50 218.64 L577.80 220.20 L578.10 219.33 L578.40 220.64 L578.70 217.64 L579.00 220.56 L579.30 218.89 L579.60 221.29 L579.90 218.26 L580.20 220.38 L580.50 217.52 L580.80 220.19 L581.10 219.15 L581.40 220.34 L581.70 218.33 L582.00 221.16 L582.30 217.59 L582.60 221.96 L582.90 218.73 L583.20 221.44 L583.50 219.25 L583.80 221.47 L584.10 218.28 L584.40 221.44 L584.70 219.09 L585.00 221.85 L585.30 218.90 L585.60 221.88 L585.90 217.88 L586.20 220.52 L586.50 218.85 L586.80 219.92 L587.10 219.09 L587.40 220.08 L587.70 218.93 L588.00 221.18 L588.30 219.46 L588.60 221.78 L588.90 217.66 L589.20 220.64 L589.50 217.71 L589.80 221.07 L590.10 219.20 L590.40 221.89 L590.70 218.38 L591.00 221.73 L591.30 218.32 L591.60 219.85 L591.90 218.97 L592.20 219.98 L592.50 218.60 L592.80 221.74 L593.10 218.54 L593.40 221.75 L593.70 217.73 L594.00 221.63 L594.30 218.37 L594.60 220.31 L594.90 217.96 L595.20 221.01 L595.50 218.24 L595.80 221.30 L596.10 219.14 L596.40 220.08 L596.70 217.56 L597.00 221.19 L597.30 217.58 L597.60 220.21 L597.90 217.82 L598.20 220.31 L598.50 218.28 L598.80 221.11 L599.10 218.07 L599.40 221.53 L599.70 218.06 L600.00 220.19 L600.30 218.37 L600.60 220.02 L600.90 218.85 L601.20 221.10 L601.50 218.58 L601.80 221.88 L602.10 217.79 L602.40 221.96 L602.70 219.07 L603.00 221.32 L603.30 219.33 L603.60 222.01 L603.90 219.40 L604.20 221.68 L604.50 217.50 L604.80 220.81 L605.10 219.07 L605.40 222.01 L605.70 218.28 L606.00 220.27 L606.30 219.64 L606.60 220.90 L606.90 217.66 L607.20 221.35 L607.50 218.01 L607.80 222.07 L608.10 218.24 L608.40 220.19 L608.70 218.77 L609.00 220.26 L609.30 219.40 L609.60 220.55 L609.90 218.23 L610.20 220.80 L610.50 219.34 L610.80 221.90 L611.10 218.30 L611.40 221.05 L611.70 219.05 L612.00 220.19 L612.30 218.12 L612.60 221.85 L612.90 219.60 L613.20 221.20 L613.50 218.52 L613.80 222.05 L614.10 217.71 L614.40 220.43 L614.70 219.23 L615.00 220.40 L615.30 219.43 L615.60 221.98 L615.90 218.26 L616.20 219.90 L616.50 219.51 L616.80 220.80 L617.10 219.38 L617.40 216.15 L617.70 219.48 L618.00 220.28 L618.30 217.68 L618.60 221.03 L618.90 219.40 L619.20 221.63 L619.50 219.74 L619.80 222.01 L620.10 219.62 L620.40 221.85 L620.70 218.14 L621.00 221.31 L621.30 218.43 L621.60 221.82 L621.90 217.53 L622.20 221.98 L622.50 217.50 L622.80 220.43 L623.10 217.76 L623.40 221.57 L623.70 219.79 L624.00 219.82 L624.30 217.65 L624.60 221.79 L624.90 218.90 L625.20 221.31 L625.50 219.59 L625.80 220.16 L626.10 218.22 L626.40 221.70 L626.70 219.11 L627.00 219.91 L627.30 219.07 L627.60 220.52 L627.90 219.40 L628.20 219.95 L628.50 218.37 L628.80 219.81 L629.10 218.98 L629.40 220.59 L629.70 218.83 L630.00 219.94 L630.30 217.67 L630.60 222.06 L630.90 218.10" stroke="#ff0000" stroke-width="0.9" fill="none" stroke-linejoin="round" stroke-linecap="round"/>
<text x="374.3" y="35.5" style="font-family:'Liberation Serif',serif;font-size:8.7px;font-weight:bold;font-style:italic" fill="#000">i<tspan dy="1.8" style="font-size:6.2px">peak</tspan><tspan dy="-1.8"> = 418 A</tspan></text>
<text x="387.0" y="120.3" style="font-family:'Liberation Serif',serif;font-size:8.7px;font-weight:bold;font-style:italic;color:#ff0000" fill="#ff0000">i<tspan dy="1.8" style="font-size:6.2px">peak</tspan><tspan dy="-1.8"> = 230 A</tspan></text>
<path d="M31.80 508.50 L293.80 508.50" stroke="#ff0000" stroke-width="1.35" fill="none" stroke-linejoin="round" stroke-linecap="round"/>
<path d="M31.80 508.50 L33.06 508.50 L35.58 508.50 L39.37 508.50 L44.41 508.50 L50.71 508.50 L58.28 508.50 L67.11 508.50 L77.19 508.50 L86.04 508.64 L93.66 508.93 L100.03 509.35 L105.17 509.92 L109.07 510.63 L111.73 511.49 L113.16 512.48 L113.34 513.62 L113.55 514.59 L113.79 515.39 L114.05 516.03 L114.33 516.50 L114.63 516.80 L114.96 516.93 L115.31 516.90 L115.69 516.70 L116.09 516.51 L116.52 516.34 L116.98 516.18 L117.47 516.04 L117.98 515.91 L118.53 515.80 L119.10 515.69 L119.70 515.61 L120.31 515.49 L120.92 515.36 L121.54 515.19 L122.16 515.01 L122.79 514.79 L123.43 514.56 L124.07 514.29 L124.73 514.01 L125.38 513.72 L126.05 513.43 L126.73 513.13 L127.42 512.84 L128.12 512.55 L128.82 512.25 L129.54 511.95 L130.26 511.65 L131.02 511.38 L131.81 511.13 L132.62 510.90 L133.48 510.70 L134.36 510.53 L135.27 510.38 L136.21 510.25 L137.19 510.15 L138.19 510.07 L139.21 510.00 L140.26 509.94 L141.34 509.91 L142.44 509.88 L143.56 509.88 L144.71 509.89 L145.89 509.91 L147.14 509.93 L148.46 509.94 L149.86 509.95 L151.34 509.95 L152.89 509.94 L154.51 509.93 L156.21 509.91 L157.99 509.89 L159.63 509.87 L161.14 509.86 L162.52 509.85 L163.77 509.85 L164.89 509.86 L165.88 509.87 L166.74 509.89 L167.46 509.91 L168.28 509.93 L169.20 509.93 L170.22 509.93 L171.33 509.92 L172.54 509.90 L173.85 509.87 L175.25 509.82 L176.75 509.77 L178.34 509.73 L180.03 509.68 L181.81 509.62 L183.69 509.58 L185.66 509.53 L187.72 509.48 L189.88 509.43 L192.12 509.38 L194.28 509.34 L196.34 509.31 L198.31 509.29 L200.19 509.28 L201.97 509.29 L203.66 509.30 L205.25 509.33 L206.75 509.37 L208.12 509.39 L209.38 509.39 L210.50 509.38 L211.50 509.35 L212.38 509.30 L213.12 509.23 L213.75 509.15 L214.25 509.05 L214.69 508.96 L215.06 508.89 L215.38 508.82 L215.62 508.77 L215.81 508.74 L215.94 508.71 L216.00 508.70" stroke="#00ee00" stroke-width="1.35" fill="none" stroke-linejoin="round" stroke-linecap="round"/>
<path d="M216.00 508.70 L293.80 508.70" stroke="#00ee00" stroke-width="1.35" fill="none" stroke-linejoin="round" stroke-linecap="round"/>
<path d="M31.80 508.50 L99.00 508.50 L101.40 511.40 L103.80 516.00 L105.30 512.20 L106.90 520.80 L107.70 514.50 L109.70 538.00 L111.60 519.20 L112.40 524.00 L113.60 494.90" stroke="#0000ff" stroke-width="1.35" fill="none" stroke-linejoin="round" stroke-linecap="round"/>
<path d="M113.60 494.90 L113.63 495.06 L113.69 495.38 L113.78 495.86 L113.90 496.49 L114.05 497.29 L114.22 498.25 L114.43 499.36 L114.67 500.64 L114.93 501.85 L115.20 503.00 L115.50 504.10 L115.82 505.13 L116.16 506.10 L116.52 507.01 L116.90 507.86 L117.30 508.64 L117.70 509.41 L118.10 510.14 L118.49 510.86 L118.88 511.54 L119.28 512.21 L119.67 512.84 L120.06 513.46 L120.44 514.04 L120.86 514.51 L121.29 514.85 L121.76 515.08 L122.24 515.18 L122.76 515.15 L123.29 515.01 L123.86 514.74 L124.44 514.36 L125.06 513.91 L125.69 513.39 L126.36 512.82 L127.04 512.18 L127.76 511.48 L128.49 510.72 L129.26 509.89 L130.04 509.01 L130.81 508.20 L131.54 507.49 L132.26 506.86 L132.94 506.32 L133.61 505.86 L134.24 505.49 L134.86 505.20 L135.44 505.00 L136.03 504.90 L136.62 504.90 L137.21 504.99 L137.79 505.18 L138.38 505.48 L138.97 505.87 L139.56 506.36 L140.14 506.94 L140.76 507.52 L141.39 508.09 L142.06 508.64 L142.74 509.18 L143.46 509.72 L144.19 510.24 L144.96 510.75 L145.74 511.25 L146.53 511.66 L147.32 511.99 L148.11 512.22 L148.89 512.38 L149.68 512.44 L150.47 512.41 L151.26 512.30 L152.04 512.10 L152.83 511.96 L153.61 511.89 L154.40 511.88 L155.18 511.92 L155.96 512.04 L156.74 512.21 L157.51 512.45 L158.29 512.75 L159.06 512.97 L159.84 513.12 L160.62 513.20 L161.40 513.20 L162.19 513.12 L162.97 512.97 L163.76 512.75 L164.54 512.45 L165.38 512.23 L166.25 512.08 L167.18 512.02 L168.15 512.03 L169.16 512.12 L170.22 512.29 L171.32 512.54 L172.47 512.86 L173.57 513.10 L174.60 513.24 L175.58 513.28 L176.50 513.24 L177.36 513.10 L178.16 512.88 L178.91 512.56 L179.59 512.14 L180.37 511.77 L181.23 511.42 L182.17 511.11 L183.20 510.84 L184.32 510.60 L185.52 510.39 L186.81 510.22 L188.19 510.08 L189.70 509.97 L191.35 509.88 L193.13 509.81 L195.05 509.77 L197.10 509.75 L199.29 509.75 L201.62 509.77 L204.08 509.82 L206.29 509.85 L208.24 509.85 L209.93 509.82 L211.37 509.76 L212.55 509.68 L213.47 509.57 L214.14 509.43 L214.56 509.27 L214.92 509.13 L215.23 509.00 L215.48 508.90 L215.69 508.82 L215.85 508.76 L215.95 508.72 L216.00 508.70" stroke="#0000ff" stroke-width="1.35" fill="none" stroke-linejoin="round" stroke-linecap="round"/>
<path d="M216.00 508.70 L226.20 508.70 L226.60 501.90 L227.00 508.70 L235.00 508.20" stroke="#0000ff" stroke-width="1.35" fill="none" stroke-linejoin="round" stroke-linecap="round"/>
<path d="M235.00 508.20 L235.61 508.21 L236.21 508.47 L236.82 508.15 L237.43 507.85 L238.04 507.41 L238.64 507.38 L239.25 507.59 L239.86 507.52 L240.46 507.63 L241.07 507.30 L241.68 507.33 L242.29 507.22 L242.89 507.49 L243.50 507.60 L244.09 507.25 L244.68 506.82 L245.27 506.45 L245.86 506.78 L246.45 506.94 L247.05 507.16 L247.64 507.01 L248.23 506.85 L248.82 506.80 L249.41 506.65 L250.00 506.27 L250.64 506.00 L251.29 505.62 L251.93 505.67 L252.57 505.31 L253.21 505.06 L253.86 504.64 L254.50 504.35 L254.71 503.73 L254.93 503.03 L255.14 502.68 L255.35 502.38 L255.56 502.28 L255.77 501.64 L255.99 500.95 L256.20 500.26 L256.23 499.35 L256.26 498.81 L256.29 498.03 L256.32 497.44 L256.36 496.58 L256.39 496.01 L256.42 495.43 L256.45 494.96 L256.48 494.39 L256.51 493.85 L256.54 493.07 L256.57 492.39 L256.61 491.69 L256.64 491.14 L256.67 490.37 L256.70 489.82 L257.33 489.70 L257.96 489.90 L258.59 490.17 L259.21 490.29 L259.84 490.29 L260.47 490.23 L261.10 490.00 L261.73 489.65 L262.36 489.54 L262.99 489.92 L263.61 490.15 L264.24 489.76 L264.87 489.49 L265.50 489.57 L266.13 490.05 L266.76 490.35 L267.39 490.09 L268.01 490.16 L268.64 490.03 L269.27 490.39 L269.90 490.11 L270.53 490.52 L271.16 490.55 L271.79 490.95 L272.41 490.64 L273.04 490.74 L273.67 490.76 L274.30 491.05 L274.91 490.92 L275.51 491.00 L276.12 490.86 L276.72 490.83 L277.32 490.53 L277.93 490.71 L278.54 490.61 L279.14 490.64 L279.75 490.32 L280.35 490.60 L280.95 490.78 L281.56 491.03 L282.16 490.71 L282.77 490.64 L283.38 490.54 L283.98 490.57 L284.58 490.33 L285.19 490.68 L285.79 490.70 L286.40 490.86 L286.55 491.06 L286.69 491.90 L286.84 492.36 L286.99 493.06 L287.13 493.52 L287.28 494.51 L287.43 494.85 L287.57 495.42 L287.72 495.83 L287.87 496.93 L288.01 497.61 L288.16 498.19 L288.31 498.61 L288.45 499.08 L288.60 499.43 L289.15 499.71 L289.70 500.40 L290.25 501.15 L290.80 501.38 L291.35 501.63 L291.90 502.06 L292.38 501.51 L292.85 500.90 L293.32 500.09 L293.80 499.70" stroke="#0000ff" stroke-width="1.35" fill="none" stroke-linejoin="round" stroke-linecap="round"/>
<path d="M32.40 508.50 L32.40 364.30" stroke="#ff00ff" stroke-width="1.35" fill="none" stroke-linejoin="round" stroke-linecap="round"/>
<path d="M31.80 508.50 L79.20 508.50 L79.40 514.50 L79.80 508.50 L92.50 508.50 L92.80 505.90 L93.20 508.50 L95.10 512.20 L97.00 508.50 L112.80 508.50 L113.60 495.70" stroke="#ff00ff" stroke-width="1.35" fill="none" stroke-linejoin="round" stroke-linecap="round"/>
<path d="M113.60 495.70 L113.65 495.82 L113.76 496.07 L113.93 496.43 L114.15 496.92 L114.42 497.53 L114.75 498.26 L115.13 499.11 L115.57 500.09 L116.02 500.99 L116.50 501.82 L116.99 502.58 L117.51 503.27 L118.04 503.88 L118.59 504.43 L119.16 504.90 L119.74 505.30 L120.36 505.67 L120.99 506.02 L121.66 506.35 L122.34 506.65 L123.06 506.92 L123.79 507.18 L124.56 507.40 L125.34 507.60 L126.18 507.71 L127.06 507.74 L128.00 507.68 L128.98 507.53 L130.01 507.29 L131.09 506.96 L132.21 506.55 L133.39 506.05 L134.54 505.65 L135.67 505.35 L136.77 505.15 L137.85 505.05 L138.91 505.05 L139.95 505.15 L140.96 505.35 L141.94 505.65 L142.93 505.95 L143.91 506.25 L144.90 506.54 L145.88 506.83 L146.86 507.13 L147.84 507.42 L148.81 507.71 L149.79 507.99 L150.76 508.32 L151.74 508.69 L152.71 509.09 L153.69 509.53 L154.66 510.02 L155.64 510.54 L156.61 511.10 L157.59 511.70 L158.52 512.24 L159.40 512.71 L160.23 513.12 L161.02 513.46 L161.76 513.74 L162.45 513.95 L163.10 514.11 L163.70 514.19 L164.29 514.23 L164.87 514.23 L165.44 514.18 L166.01 514.07 L166.56 513.93 L167.10 513.73 L167.64 513.49 L168.16 513.21 L168.72 512.94 L169.30 512.71 L169.91 512.49 L170.54 512.31 L171.21 512.14 L171.90 512.01 L172.62 511.89 L173.38 511.81 L174.12 511.70 L174.88 511.58 L175.62 511.43 L176.38 511.27 L177.12 511.09 L177.88 510.89 L178.62 510.67 L179.38 510.43 L180.20 510.19 L181.11 509.94 L182.09 509.69 L183.16 509.43 L184.30 509.17 L185.52 508.91 L186.81 508.64 L188.19 508.36 L189.65 508.10 L191.20 507.86 L192.83 507.64 L194.55 507.43 L196.35 507.25 L198.24 507.07 L200.22 506.92 L202.28 506.78 L204.15 506.70 L205.83 506.69 L207.33 506.73 L208.62 506.84 L209.73 507.01 L210.65 507.24 L211.38 507.53 L211.92 507.88 L212.39 508.18 L212.79 508.44 L213.13 508.66 L213.40 508.84 L213.60 508.97 L213.73 509.06 L213.80 509.10" stroke="#ff00ff" stroke-width="1.35" fill="none" stroke-linejoin="round" stroke-linecap="round"/>
<path d="M213.80 508.70 L293.80 508.70" stroke="#ff00ff" stroke-width="1.35" fill="none" stroke-linejoin="round" stroke-linecap="round"/>
<path d="M32.40 356.50 L32.40 364.30" stroke="#000000" stroke-width="1.35" fill="none" stroke-linejoin="round" stroke-linecap="round"/>
<path d="M32.40 364.30 L33.00 364.59 L33.60 364.76 L34.20 364.80 L34.80 364.89 L35.40 364.60 L36.00 364.54 L36.60 364.59 L37.20 364.87 L37.80 365.08 L38.40 364.81 L39.00 364.79 L39.60 364.59 L40.20 364.80 L40.80 364.88 L41.40 364.84 L42.00 364.76 L42.60 364.70 L43.20 365.08 L43.80 365.33 L44.40 365.33 L45.01 365.37 L45.61 365.22 L46.22 365.48 L46.83 365.32 L47.43 365.36 L48.04 365.54 L48.64 365.66 L49.25 365.82 L49.86 365.95 L50.46 366.29 L51.07 366.40 L51.67 366.48 L52.28 366.45 L52.89 366.68 L53.49 366.48 L54.10 366.72 L54.75 366.88 L55.40 367.31 L56.05 367.44 L56.70 367.45 L57.35 367.37 L58.00 367.25 L58.58 367.40 L59.16 367.50 L59.74 367.76 L60.32 368.14 L60.90 368.33 L61.48 368.68 L62.06 368.79 L62.64 369.11 L63.22 369.38 L63.80 369.64 L64.44 369.84 L65.08 369.92 L65.72 370.20 L66.36 370.30 L67.00 370.69 L67.58 370.61 L68.15 371.04 L68.72 371.17 L69.30 371.34 L69.88 371.53 L70.45 371.53 L71.02 371.91 L71.60 371.80 L72.17 371.93 L72.73 372.03 L73.30 372.63 L73.87 372.94 L74.43 373.40 L75.00 373.64 L75.57 374.25 L76.13 374.43 L76.70 374.55 L77.27 374.73 L77.83 375.22 L78.40 375.50" stroke="#000000" stroke-width="1.35" fill="none" stroke-linejoin="round" stroke-linecap="round"/>
<path d="M78.40 375.50 L78.60 486.50 L79.30 487.50 L79.40 495.70" stroke="#000000" stroke-width="1.35" fill="none" stroke-linejoin="round" stroke-linecap="round"/>
<path d="M79.40 495.70 L79.41 495.80 L79.42 496.00 L79.44 496.29 L79.46 496.68 L79.49 497.18 L79.53 497.77 L79.57 498.46 L79.62 499.24 L79.69 500.02 L79.76 500.78 L79.85 501.53 L79.95 502.27 L80.06 502.99 L80.19 503.71 L80.33 504.41 L80.48 505.09 L80.65 505.72 L80.86 506.28 L81.10 506.78 L81.37 507.22 L81.67 507.59 L82.00 507.91 L82.36 508.16 L82.74 508.34 L83.18 508.51 L83.67 508.66 L84.21 508.79 L84.79 508.91 L85.43 509.00 L86.12 509.07 L86.86 509.13 L87.64 509.17 L88.41 509.18 L89.14 509.17 L89.86 509.13 L90.54 509.07 L91.21 508.98 L91.84 508.87 L92.46 508.73 L93.04 508.57 L93.66 508.42 L94.29 508.28 L94.96 508.16 L95.64 508.04 L96.36 507.94 L97.09 507.86 L97.86 507.78 L98.64 507.72 L99.33 507.66 L99.92 507.62 L100.42 507.58 L100.81 507.55 L101.10 507.52 L101.30 507.51 L101.40 507.50" stroke="#000000" stroke-width="1.35" fill="none" stroke-linejoin="round" stroke-linecap="round"/>
<path d="M101.40 507.50 L103.80 504.80 L106.10 505.90 L108.10 499.60 L109.20 506.70 L110.80 508.30 L113.20 510.60 L115.50 514.80" stroke="#000000" stroke-width="1.35" fill="none" stroke-linejoin="round" stroke-linecap="round"/>
<path d="M115.50 514.80 L115.57 514.78 L115.72 514.75 L115.94 514.71 L116.23 514.64 L116.60 514.57 L117.04 514.47 L117.56 514.36 L118.14 514.24 L118.81 514.08 L119.54 513.88 L120.36 513.66 L121.24 513.39 L122.21 513.10 L123.24 512.77 L124.36 512.40 L125.54 512.00 L126.68 511.61 L127.76 511.24 L128.80 510.88 L129.78 510.54 L130.71 510.21 L131.59 509.90 L132.41 509.59 L133.19 509.31 L133.96 509.02 L134.74 508.73 L135.52 508.43 L136.30 508.14 L137.09 507.85 L137.87 507.55 L138.66 507.25 L139.44 506.95 L140.23 506.64 L141.02 506.32 L141.81 505.98 L142.59 505.64 L143.38 505.29 L144.17 504.92 L144.96 504.54 L145.74 504.16 L146.55 503.79 L147.39 503.44 L148.25 503.11 L149.13 502.79 L150.03 502.50 L150.96 502.23 L151.91 501.97 L152.89 501.73 L153.95 501.50 L155.11 501.28 L156.37 501.07 L157.71 500.87 L159.15 500.68 L160.67 500.50 L162.29 500.33 L164.01 500.17 L165.69 500.02 L167.35 499.89 L168.98 499.77 L170.59 499.66 L172.17 499.57 L173.72 499.49 L175.25 499.43 L176.75 499.38 L178.41 499.32 L180.22 499.27 L182.19 499.21 L184.31 499.14 L186.59 499.08 L189.03 499.01 L191.62 498.94 L194.38 498.86 L196.97 498.80 L199.41 498.74 L201.69 498.69 L203.81 498.66 L205.78 498.63 L207.59 498.61 L209.25 498.60 L210.75 498.60 L212.06 498.60 L213.19 498.60 L214.12 498.60 L214.88 498.60 L215.44 498.60 L215.81 498.60 L216.00 498.60" stroke="#000000" stroke-width="1.35" fill="none" stroke-linejoin="round" stroke-linecap="round"/>
<path d="M216.50 498.60 L217.10 508.70" stroke="#000000" stroke-width="1.35" fill="none" stroke-linejoin="round" stroke-linecap="round"/>
<path d="M217.10 508.70 L217.74 508.35 L218.37 508.59 L219.01 508.34 L219.64 508.56 L220.28 508.57 L220.91 508.60 L221.55 508.62 L222.19 508.43 L222.82 508.39 L223.46 508.26 L224.09 508.30 L224.73 508.55 L225.36 508.76 L226.00 508.39 L226.60 508.19 L227.20 507.72 L227.80 507.88 L228.40 508.25 L229.00 508.48 L229.60 508.58 L230.20 508.17 L230.80 508.20 L231.40 507.70 L232.00 507.57 L232.57 507.19 L233.14 507.27 L233.71 507.02 L234.29 506.32 L234.86 505.69 L235.43 505.23 L236.00 505.02 L236.62 505.31 L237.24 505.25 L237.86 505.57 L238.48 505.56 L239.10 505.41 L239.73 505.11 L240.36 504.89 L240.99 504.90 L241.61 504.96 L242.24 505.25 L242.87 505.34 L243.50 505.47 L244.13 505.00 L244.76 505.33 L245.39 505.55 L246.01 505.63 L246.64 505.29 L247.27 504.80 L247.90 505.04 L248.53 505.10 L249.16 505.15 L249.79 505.17 L250.41 505.80 L251.04 506.07 L251.67 506.05 L252.30 505.92 L252.93 505.76 L253.56 505.93 L254.19 505.68 L254.81 506.06 L255.44 506.35 L256.07 506.33 L256.70 506.34 L257.36 506.36 L258.02 506.66 L258.68 506.72 L259.34 507.20 L260.00 507.99 L260.66 508.09 L261.32 508.11 L261.98 508.28 L262.64 508.55 L263.30 508.69 L263.92 508.08 L264.53 508.14 L265.15 508.15 L265.76 508.47 L266.38 508.70 L267.00 508.30 L267.61 508.12 L268.23 508.15 L268.84 508.44 L269.46 508.48 L270.08 508.15 L270.69 508.38 L271.31 508.43 L271.92 508.16 L272.54 508.01 L273.16 507.83 L273.77 508.06 L274.39 507.66 L275.00 507.71 L275.62 507.61 L276.24 507.50 L276.85 507.59 L277.47 507.42 L278.08 507.84 L278.70 507.42 L279.30 507.66 L279.90 507.47 L280.50 507.57 L281.10 507.33 L281.70 506.77 L282.30 506.73 L282.90 506.34 L283.50 506.13 L284.10 506.08 L284.70 505.86 L285.30 505.75 L285.91 505.79 L286.51 505.87 L287.12 506.15 L287.73 505.81 L288.34 506.22 L288.94 506.05 L289.55 506.08 L290.16 506.26 L290.76 506.31 L291.37 506.98 L291.98 507.09 L292.59 507.47 L293.19 506.97 L293.80 507.00" stroke="#000000" stroke-width="1.35" fill="none" stroke-linejoin="round" stroke-linecap="round"/>
<path d="M369.50 539.20 L369.60 511.30" stroke="#000000" stroke-width="1.35" fill="none" stroke-linejoin="round" stroke-linecap="round"/>
<path d="M369.60 511.30 L369.78 511.27 L370.14 511.20 L370.69 511.10 L371.41 510.97 L372.32 510.81 L373.41 510.61 L374.68 510.38 L376.12 510.12 L377.65 509.83 L379.24 509.50 L380.91 509.15 L382.64 508.77 L384.45 508.36 L386.33 507.92 L388.29 507.45 L390.31 506.95 L392.24 506.44 L394.06 505.91 L395.78 505.37 L397.40 504.81 L398.91 504.24 L400.33 503.65 L401.64 503.06 L402.86 502.44 L404.02 501.83 L405.13 501.22 L406.18 500.62 L407.19 500.01 L408.15 499.40 L409.05 498.80 L409.90 498.20 L410.70 497.60 L411.45 497.01 L412.14 496.43 L412.78 495.87 L413.37 495.31 L413.90 494.76 L414.38 494.23 L414.81 493.71 L415.19 493.19 L415.52 492.75 L415.80 492.36 L416.03 492.04 L416.22 491.78 L416.36 491.59 L416.45 491.46 L416.50 491.40" stroke="#000000" stroke-width="1.35" fill="none" stroke-linejoin="round" stroke-linecap="round"/>
<path d="M416.50 491.40 L416.51 491.07 L416.53 490.40 L416.56 489.39 L416.59 488.06 L416.64 486.38 L416.70 484.38 L416.76 482.04 L416.84 479.36 L416.91 476.24 L416.98 472.67 L417.04 468.66 L417.11 464.19 L417.17 459.28 L417.22 453.93 L417.27 448.12 L417.32 441.88 L417.38 435.43 L417.42 428.80 L417.48 421.97 L417.52 414.95 L417.58 407.74 L417.62 400.34 L417.68 392.74 L417.73 384.96 L417.79 377.73 L417.86 371.06 L417.94 364.96 L418.03 359.42 L418.14 354.43 L418.25 350.01 L418.38 346.15 L418.52 342.85 L418.68 339.86 L418.85 337.18 L419.04 334.81 L419.26 332.74 L419.49 330.99 L419.74 329.55 L420.01 328.41 L420.29 327.59 L420.60 326.94 L420.94 326.47 L421.30 326.17 L421.68 326.05 L422.08 326.11 L422.51 326.35 L422.96 326.76 L423.44 327.34 L423.94 328.03 L424.47 328.83 L425.03 329.72 L425.62 330.72 L426.23 331.83 L426.88 333.03 L427.55 334.34 L428.25 335.76 L428.95 337.23 L429.65 338.76 L430.36 340.35 L431.07 342.00 L431.77 343.71 L432.48 345.48 L433.19 347.31 L433.91 349.19 L434.59 350.90 L435.24 352.43 L435.86 353.79 L436.44 354.96 L437.00 355.96 L437.53 356.78 L438.02 357.42 L438.48 357.88 L438.93 358.21 L439.37 358.41 L439.79 358.48 L440.21 358.42 L440.61 358.22 L440.99 357.90 L441.37 357.44 L441.73 356.86 L442.08 356.50 L442.40 356.39 L442.72 356.51 L443.01 356.87 L443.29 357.46 L443.55 358.29 L443.79 359.35 L444.01 360.65 L444.27 361.88 L444.56 363.02 L444.88 364.10 L445.22 365.10 L445.61 366.02 L446.02 366.88 L446.46 367.65 L446.94 368.35 L447.40 368.99 L447.84 369.58 L448.27 370.10 L448.68 370.57 L449.08 370.98 L449.46 371.34 L449.82 371.63 L450.18 371.87 L450.53 372.22 L450.88 372.70 L451.23 373.28 L451.59 373.99 L451.95 374.81 L452.31 375.75 L452.67 376.81 L453.03 377.99 L453.41 379.25 L453.79 380.60 L454.19 382.05 L454.61 383.58 L455.03 385.20 L455.47 386.91 L455.92 388.71 L456.38 390.59 L456.86 392.42 L457.35 394.19 L457.86 395.90 L458.39 397.55 L458.93 399.14 L459.48 400.67 L460.06 402.14 L460.64 403.56 L461.21 404.86 L461.75 406.06 L462.27 407.16 L462.77 408.14 L463.25 409.02 L463.71 409.80 L464.14 410.47 L464.56 411.03 L465.03 411.62 L465.58 412.25 L466.19 412.90 L466.86 413.58 L467.60 414.29 L468.41 415.03 L469.28 415.80 L470.22 416.60 L471.36 417.60 L472.70 418.79 L474.25 420.18 L476.00 421.77 L477.95 423.55 L480.11 425.53 L482.47 427.71 L485.03 430.09 L487.60 432.46 L490.16 434.84 L492.73 437.22 L495.30 439.60 L497.87 441.99 L500.44 444.37 L503.01 446.76 L505.59 449.14 L508.12 451.49 L510.60 453.78 L513.03 456.03 L515.42 458.24 L517.76 460.40 L520.05 462.52 L522.30 464.59 L524.50 466.61 L526.75 468.59 L529.04 470.52 L531.38 472.41 L533.77 474.24 L536.20 476.03 L538.68 477.78 L541.21 479.47 L543.79 481.12 L546.41 482.73 L549.07 484.29 L551.77 485.80 L554.52 487.27 L557.32 488.70 L560.16 490.07 L563.04 491.41 L565.96 492.69 L568.94 493.93 L571.96 495.13 L575.03 496.28 L578.15 497.38 L581.31 498.43 L584.53 499.43 L587.79 500.39 L591.11 501.31 L594.44 502.18 L597.80 503.01 L601.18 503.81 L604.59 504.57 L608.02 505.28 L611.47 505.96 L614.95 506.60 L618.45 507.20 L621.51 507.73 L624.14 508.18 L626.33 508.55 L628.08 508.85 L629.39 509.07 L630.26 509.23 L630.70 509.30" stroke="#000000" stroke-width="1.35" fill="none" stroke-linejoin="round" stroke-linecap="round"/>
<path d="M369.50 511.30 L369.50 415.40" stroke="#ff00ff" stroke-width="1.35" fill="none" stroke-linejoin="round" stroke-linecap="round"/>
<path d="M369.50 422.70 L369.68 422.85 L370.05 423.15 L370.60 423.61 L371.33 424.22 L372.24 424.97 L373.34 425.88 L374.62 426.94 L376.08 428.16 L377.61 429.41 L379.22 430.69 L380.89 432.02 L382.63 433.38 L384.45 434.78 L386.33 436.22 L388.29 437.69 L390.31 439.21 L392.39 440.68 L394.51 442.12 L396.69 443.52 L398.91 444.88 L401.19 446.21 L403.51 447.49 L405.89 448.74 L408.31 449.96 L410.69 451.14 L413.01 452.31 L415.29 453.44 L417.51 454.56 L419.69 455.64 L421.81 456.71 L423.89 457.74 L425.91 458.76 L427.89 459.77 L429.81 460.78 L431.68 461.79 L433.50 462.81 L435.26 463.82 L436.98 464.83 L438.64 465.84 L440.26 466.86 L441.72 467.75 L443.05 468.54 L444.22 469.21 L445.25 469.77 L446.14 470.21 L446.88 470.54 L447.48 470.75 L447.93 470.85 L448.32 470.94 L448.66 471.01 L448.94 471.08 L449.16 471.12 L449.33 471.16 L449.44 471.19 L449.50 471.20" stroke="#ff0000" stroke-width="1.35" fill="none" stroke-linejoin="round" stroke-linecap="round"/>
<path d="M449.50 471.20 L450.80 468.00 L452.40 495.50 L455.60 495.50" stroke="#ff0000" stroke-width="1.35" fill="none" stroke-linejoin="round" stroke-linecap="round"/>
<path d="M455.60 495.50 L455.70 495.47 L455.90 495.41 L456.21 495.31 L456.62 495.19 L457.12 495.03 L457.73 494.84 L458.44 494.62 L459.26 494.38 L460.11 494.13 L461.00 493.90 L461.93 493.67 L462.90 493.45 L463.90 493.24 L464.95 493.04 L466.04 492.84 L467.16 492.66 L468.37 492.52 L469.65 492.45 L471.02 492.42 L472.46 492.45 L473.98 492.54 L475.59 492.68 L477.27 492.88 L479.03 493.12 L481.02 493.42 L483.22 493.77 L485.65 494.17 L488.30 494.61 L491.17 495.10 L494.27 495.64 L497.58 496.23 L501.12 496.87 L504.65 497.51 L508.19 498.17 L511.72 498.83 L515.25 499.50 L518.78 500.17 L522.31 500.86 L525.84 501.55 L529.36 502.25 L532.89 502.94 L536.42 503.63 L539.95 504.30 L543.48 504.97 L547.01 505.63 L550.55 506.29 L554.08 506.93 L557.62 507.57 L561.16 508.17 L564.69 508.74 L568.23 509.28 L571.77 509.78 L575.31 510.24 L578.84 510.67 L582.38 511.07 L585.92 511.43 L589.52 511.79 L593.19 512.15 L596.92 512.51 L600.71 512.87 L604.57 513.22 L608.49 513.57 L612.48 513.92 L616.52 514.28 L620.07 514.58 L623.11 514.84 L625.64 515.06 L627.66 515.24 L629.18 515.37 L630.19 515.46 L630.70 515.50" stroke="#ff0000" stroke-width="1.35" fill="none" stroke-linejoin="round" stroke-linecap="round"/>
<path d="M369.50 414.60 L369.68 414.75 L370.05 415.05 L370.60 415.51 L371.33 416.12 L372.24 416.87 L373.34 417.78 L374.62 418.84 L376.08 420.06 L377.61 421.31 L379.22 422.60 L380.89 423.93 L382.63 425.30 L384.45 426.70 L386.33 428.15 L388.29 429.64 L390.31 431.16 L392.28 432.60 L394.19 433.95 L396.05 435.20 L397.85 436.37 L399.59 437.45 L401.28 438.44 L402.91 439.34 L404.49 440.16 L406.09 440.97 L407.71 441.78 L409.36 442.59 L411.04 443.41 L412.74 444.22 L414.46 445.03 L416.21 445.84 L417.99 446.66 L419.73 447.46 L421.44 448.24 L423.12 449.02 L424.78 449.78 L426.39 450.53 L427.98 451.27 L429.54 451.99 L431.06 452.71 L432.50 453.29 L433.85 453.75 L435.11 454.08 L436.29 454.29 L437.37 454.37 L438.38 454.32 L439.29 454.15 L440.11 453.85 L440.91 453.57 L441.67 453.32 L442.41 453.09 L443.12 452.88 L443.79 452.70 L444.44 452.54 L445.06 452.41 L445.64 452.29 L446.20 452.17 L446.72 452.03 L447.22 451.88 L447.68 451.72 L448.11 451.54 L448.51 451.36 L448.88 451.16 L449.22 450.94 L449.51 450.76 L449.77 450.60 L449.98 450.47 L450.15 450.36 L450.27 450.28 L450.36 450.23 L450.40 450.20" stroke="#00ee00" stroke-width="1.35" fill="none" stroke-linejoin="round" stroke-linecap="round"/>
<path d="M450.40 450.20 L450.80 452.00 L452.50 495.50 L455.60 495.50" stroke="#00ee00" stroke-width="1.35" fill="none" stroke-linejoin="round" stroke-linecap="round"/>
<path d="M455.60 495.50 L455.75 495.51 L456.04 495.54 L456.48 495.58 L457.07 495.62 L457.80 495.69 L458.68 495.76 L459.71 495.85 L460.89 495.95 L462.23 496.00 L463.74 496.00 L465.42 495.96 L467.28 495.87 L469.29 495.72 L471.48 495.53 L473.84 495.29 L476.36 495.01 L479.01 494.77 L481.79 494.58 L484.70 494.44 L487.73 494.36 L490.89 494.32 L494.17 494.33 L497.58 494.39 L501.12 494.51 L504.65 494.68 L508.19 494.91 L511.72 495.21 L515.25 495.57 L518.78 495.98 L522.31 496.46 L525.84 497.00 L529.36 497.60 L532.89 498.21 L536.42 498.84 L539.95 499.47 L543.48 500.12 L547.01 500.79 L550.55 501.46 L554.08 502.15 L557.62 502.85 L561.16 503.52 L564.69 504.16 L568.23 504.77 L571.77 505.35 L575.31 505.90 L578.84 506.43 L582.38 506.92 L585.92 507.38 L589.52 507.82 L593.19 508.23 L596.92 508.61 L600.71 508.97 L604.57 509.30 L608.49 509.60 L612.48 509.88 L616.52 510.12 L620.07 510.34 L623.11 510.53 L625.64 510.69 L627.66 510.81 L629.18 510.91 L630.19 510.97 L630.70 511.00" stroke="#00ee00" stroke-width="1.35" fill="none" stroke-linejoin="round" stroke-linecap="round"/>
<path d="M369.50 416.20 L369.68 416.35 L370.05 416.65 L370.60 417.11 L371.33 417.72 L372.24 418.47 L373.34 419.38 L374.62 420.44 L376.08 421.66 L377.61 422.91 L379.22 424.19 L380.89 425.52 L382.63 426.88 L384.45 428.28 L386.33 429.72 L388.29 431.19 L390.31 432.71 L392.34 434.16 L394.36 435.56 L396.38 436.91 L398.40 438.19 L400.41 439.42 L402.43 440.60 L404.44 441.72 L406.46 442.78 L408.38 443.75 L410.23 444.62 L411.99 445.41 L413.66 446.09 L415.25 446.69 L416.76 447.19 L418.18 447.59 L419.52 447.91 L420.84 448.15 L422.13 448.33 L423.41 448.44 L424.67 448.48 L425.90 448.46 L427.12 448.37 L428.31 448.21 L429.49 447.99 L430.59 447.75 L431.62 447.49 L432.57 447.21 L433.45 446.92 L434.26 446.60 L435.00 446.28 L435.66 445.93 L436.24 445.57 L436.76 445.25 L437.20 444.98 L437.57 444.75 L437.86 444.57 L438.08 444.44 L438.23 444.35 L438.30 444.30" stroke="#0000ff" stroke-width="1.35" fill="none" stroke-linejoin="round" stroke-linecap="round"/>
<path d="M438.30 444.30 L441.10 439.60 L442.00 440.00 L444.00 438.70 L446.00 437.50 L447.50 436.20 L449.00 434.80 L450.40 433.20" stroke="#0000ff" stroke-width="1.35" fill="none" stroke-linejoin="round" stroke-linecap="round"/>
<path d="M450.40 433.20 L451.60 440.00 L453.50 495.50 L455.60 495.50" stroke="#0000ff" stroke-width="1.35" fill="none" stroke-linejoin="round" stroke-linecap="round"/>
<path d="M455.60 495.50 L455.68 495.37 L455.83 495.12 L456.06 494.74 L456.37 494.23 L456.75 493.60 L457.21 492.84 L457.74 491.96 L458.36 490.94 L458.96 489.99 L459.56 489.11 L460.16 488.28 L460.74 487.52 L461.33 486.82 L461.90 486.18 L462.47 485.61 L463.03 485.09 L463.57 484.64 L464.10 484.23 L464.61 483.88 L465.09 483.59 L465.56 483.35 L466.01 483.17 L466.44 483.04 L466.86 482.96 L467.48 482.94 L468.32 482.97 L469.37 483.06 L470.63 483.19 L472.11 483.38 L473.79 483.63 L475.69 483.92 L477.81 484.28 L480.10 484.70 L482.57 485.19 L485.21 485.76 L488.04 486.39 L491.04 487.10 L494.22 487.88 L497.58 488.74 L501.12 489.66 L504.65 490.58 L508.19 491.48 L511.72 492.38 L515.25 493.27 L518.78 494.15 L522.31 495.02 L525.84 495.88 L529.36 496.72 L532.89 497.55 L536.42 498.34 L539.95 499.11 L543.48 499.84 L547.01 500.55 L550.55 501.23 L554.08 501.89 L557.62 502.51 L561.16 503.13 L564.69 503.73 L568.23 504.32 L571.77 504.90 L575.31 505.47 L578.84 506.03 L582.38 506.58 L585.92 507.12 L589.52 507.65 L593.19 508.17 L596.92 508.68 L600.71 509.18 L604.57 509.67 L608.49 510.15 L612.48 510.62 L616.52 511.08 L620.07 511.49 L623.11 511.83 L625.64 512.12 L627.66 512.35 L629.18 512.53 L630.19 512.64 L630.70 512.70" stroke="#0000ff" stroke-width="1.35" fill="none" stroke-linejoin="round" stroke-linecap="round"/>
<path d="M369.50 417.00 L369.68 417.19 L370.05 417.57 L370.60 418.13 L371.33 418.89 L372.24 419.84 L373.34 420.97 L374.62 422.29 L376.08 423.81 L377.61 425.35 L379.22 426.91 L380.89 428.50 L382.63 430.12 L384.45 431.77 L386.33 433.44 L388.29 435.14 L390.31 436.86 L392.39 438.52 L394.51 440.12 L396.69 441.65 L398.91 443.12 L401.19 444.53 L403.51 445.87 L405.89 447.14 L408.31 448.36 L410.54 449.36 L412.56 450.16 L414.38 450.75 L416.00 451.13 L417.41 451.30 L418.63 451.27 L419.64 451.02 L420.46 450.57 L421.25 450.12 L422.04 449.67 L422.81 449.22 L423.57 448.76 L424.31 448.30 L425.04 447.84 L425.75 447.38 L426.45 446.92 L427.14 446.48 L427.81 446.08 L428.47 445.70 L429.11 445.35 L429.74 445.03 L430.35 444.73 L430.96 444.47 L431.54 444.23 L432.12 443.99 L432.68 443.76 L433.22 443.52 L433.75 443.28 L434.27 443.04 L434.77 442.81 L435.26 442.57 L435.74 442.33 L436.15 442.12 L436.51 441.95 L436.81 441.80 L437.04 441.68 L437.22 441.59 L437.34 441.53 L437.40 441.50" stroke="#ff00ff" stroke-width="1.35" fill="none" stroke-linejoin="round" stroke-linecap="round"/>
<path d="M437.40 441.50 L439.20 436.80 L440.00 437.50 L441.10 435.40 L442.00 435.80 L443.00 433.50 L444.50 432.50 L445.40 430.20 L446.30 434.40 L447.70 433.00 L448.80 431.50 L449.60 427.20 L450.30 430.00 L450.80 428.30" stroke="#ff00ff" stroke-width="1.35" fill="none" stroke-linejoin="round" stroke-linecap="round"/>
<path d="M450.80 428.30 L451.50 441.50 L453.40 450.90 L455.60 453.10" stroke="#ff00ff" stroke-width="1.35" fill="none" stroke-linejoin="round" stroke-linecap="round"/>
<path d="M455.60 453.10 L455.70 453.13 L455.89 453.20 L456.17 453.30 L456.55 453.43 L457.03 453.59 L457.60 453.79 L458.27 454.02 L459.03 454.28 L459.97 454.69 L461.10 455.26 L462.41 455.97 L463.89 456.83 L465.56 457.84 L467.41 459.01 L469.44 460.32 L471.66 461.78 L474.05 463.28 L476.62 464.82 L479.38 466.39 L482.32 468.01 L485.44 469.66 L488.74 471.34 L492.22 473.07 L495.88 474.83 L499.55 476.56 L503.21 478.25 L506.88 479.90 L510.55 481.52 L514.22 483.10 L517.89 484.65 L521.56 486.16 L525.24 487.64 L528.91 489.07 L532.58 490.45 L536.25 491.78 L539.92 493.07 L543.59 494.31 L547.25 495.50 L550.92 496.65 L554.58 497.75 L558.25 498.80 L561.91 499.81 L565.58 500.77 L569.25 501.68 L572.92 502.55 L576.59 503.37 L580.26 504.14 L583.94 504.86 L587.68 505.55 L591.50 506.21 L595.38 506.83 L599.34 507.42 L603.37 507.97 L607.46 508.49 L611.63 508.98 L615.87 509.43 L619.58 509.82 L622.75 510.16 L625.40 510.44 L627.52 510.66 L629.11 510.83 L630.17 510.94 L630.70 511.00" stroke="#ff00ff" stroke-width="1.35" fill="none" stroke-linejoin="round" stroke-linecap="round"/>
<path d="M31.60 680.30 L39.60 680.30 L39.80 826.40" stroke="#ff0000" stroke-width="1.35" fill="none" stroke-linejoin="round" stroke-linecap="round"/>
<path d="M39.80 826.40 L39.84 825.64 L39.88 824.91 L39.92 824.90 L39.96 824.50 L39.99 823.68 L40.03 823.01 L40.07 822.69 L40.11 822.27 L40.15 821.63 L40.19 820.65 L40.23 819.60 L40.27 818.86 L40.31 818.52 L40.34 818.23 L40.38 817.74 L40.42 817.04 L40.46 816.15 L40.50 815.39 L40.81 815.81 L41.13 816.59 L41.44 816.88 L41.76 817.22 L42.07 817.59 L42.39 818.63 L42.70 819.29 L42.77 819.90 L42.85 820.61 L42.92 821.30 L43.00 822.12 L43.07 822.46 L43.15 822.88 L43.22 823.41 L43.30 823.98 L43.37 824.94 L43.44 825.45 L43.52 826.09 L43.59 826.34 L43.67 827.24 L43.74 827.50 L43.82 828.42 L43.89 828.93 L43.97 829.81 L44.04 830.70 L44.11 830.84 L44.19 831.57 L44.26 831.79 L44.34 832.62 L44.41 833.06 L44.49 833.99 L44.56 834.35 L44.64 834.91 L44.71 835.19 L44.79 835.91 L44.86 836.81 L44.93 837.56 L45.01 838.18 L45.08 838.54 L45.16 839.18 L45.23 839.68 L45.31 840.13 L45.38 840.65 L45.46 841.73 L45.53 842.19 L45.60 842.37 L45.68 842.71 L45.75 843.67 L45.83 844.84 L45.90 845.43 L45.98 846.22 L46.05 846.41 L46.13 846.96 L46.20 847.01 L46.48 847.76 L46.76 848.46 L47.04 849.11 L47.32 849.68 L47.60 850.30 L48.03 849.73 L48.46 849.40 L48.89 848.52 L49.32 848.51 L49.75 847.65 L50.18 847.47 L50.62 847.11 L51.05 847.34 L51.48 846.81 L51.91 846.52 L52.34 845.98 L52.77 846.00 L53.20 845.02 L53.77 844.60 L54.33 843.68 L54.90 843.75 L55.47 843.06 L56.03 842.93 L56.60 842.53 L57.17 842.32 L57.73 841.93 L58.30 841.27 L58.87 841.07 L59.43 841.25 L60.00 841.03 L60.57 841.05 L61.13 840.71 L61.70 840.54 L62.14 839.65 L62.59 839.23 L63.03 838.89 L63.48 838.98 L63.92 838.05 L64.36 837.59 L64.81 836.99 L65.25 836.98 L65.69 836.55 L66.14 836.19 L66.58 835.82 L67.03 835.63 L67.47 835.14 L67.91 834.34 L68.36 833.70 L68.80 832.91 L69.42 833.38 L70.04 833.36 L70.67 833.37 L71.29 833.40 L71.91 833.50 L72.53 833.78 L73.16 833.30 L73.78 833.25 L74.40 833.31 L75.01 833.16 L75.63 832.82 L76.24 832.63 L76.86 832.41 L77.47 832.50 L78.09 832.66 L78.70 832.91 L79.23 833.28 L79.75 833.27 L80.28 833.61 L80.80 833.74 L81.33 833.81 L81.85 834.33 L82.38 835.02 L82.90 835.88 L83.47 835.78 L84.04 835.29 L84.61 835.03 L85.18 834.57 L85.75 834.67 L86.32 834.22 L86.89 834.34 L87.46 834.34 L88.03 833.97 L88.60 833.21 L89.16 833.00 L89.72 833.28 L90.28 833.54 L90.84 833.99 L91.40 834.84 L91.96 835.55 L92.52 836.09 L93.08 836.36 L93.64 836.64 L94.20 836.91 L94.76 837.03 L95.32 837.29 L95.88 837.54 L96.44 837.43 L97.00 837.70" stroke="#ff0000" stroke-width="1.35" fill="none" stroke-linejoin="round" stroke-linecap="round"/>
<path d="M97.00 837.70 L98.40 837.70 L98.60 703.10" stroke="#ff0000" stroke-width="1.35" fill="none" stroke-linejoin="round" stroke-linecap="round"/>
<path d="M98.60 703.10 L98.64 703.04 L98.71 702.92 L98.82 702.73 L98.97 702.49 L99.16 702.19 L99.39 701.82 L99.65 701.39 L99.95 700.91 L100.30 700.43 L100.70 699.96 L101.14 699.50 L101.63 699.05 L102.18 698.61 L102.77 698.18 L103.41 697.76 L104.09 697.34 L104.87 696.93 L105.73 696.52 L106.67 696.11 L107.70 695.69 L108.82 695.28 L110.02 694.87 L111.31 694.46 L112.69 694.04 L114.15 693.66 L115.70 693.30 L117.33 692.97 L119.05 692.66 L120.85 692.38 L122.74 692.13 L124.72 691.90 L126.78 691.70 L128.99 691.51 L131.35 691.33 L133.86 691.17 L136.52 691.01 L139.32 690.86 L142.27 690.73 L145.38 690.61 L148.62 690.49 L152.09 690.39 L155.78 690.29 L159.69 690.19 L163.81 690.11 L168.16 690.02 L172.72 689.95 L177.50 689.88 L182.50 689.82 L188.34 689.76 L195.03 689.70 L202.56 689.65 L210.94 689.60 L220.16 689.55 L230.22 689.51 L241.12 689.47 L252.88 689.43 L263.16 689.40 L271.97 689.37 L279.31 689.35 L285.19 689.33 L289.59 689.31 L292.53 689.30 L294.00 689.30" stroke="#ff0000" stroke-width="1.35" fill="none" stroke-linejoin="round" stroke-linecap="round"/>
<path d="M31.60 680.30 L39.60 680.30 L39.80 812.30" stroke="#00ee00" stroke-width="1.35" fill="none" stroke-linejoin="round" stroke-linecap="round"/>
<path d="M39.80 812.30 L40.20 812.74 L40.60 812.95 L41.00 813.44 L41.40 813.36 L41.80 814.23 L42.20 814.82 L42.60 815.44 L43.00 815.74 L43.40 816.29 L43.68 816.79 L43.96 817.32 L44.24 817.73 L44.52 818.36 L44.80 819.14 L45.08 820.23 L45.36 821.08 L45.64 821.45 L45.92 822.03 L46.20 822.18 L46.48 822.40 L46.76 822.91 L47.04 824.13 L47.32 825.02 L47.60 825.65 L47.73 825.79 L47.87 826.61 L48.00 826.57 L48.14 826.91 L48.27 827.52 L48.41 828.38 L48.54 829.68 L48.68 829.93 L48.81 830.46 L48.95 830.59 L49.08 831.43 L49.22 832.53 L49.35 833.55 L49.48 833.74 L49.62 834.28 L49.75 834.69 L49.89 835.56 L50.02 835.52 L50.16 835.89 L50.29 836.68 L50.43 837.37 L50.56 838.35 L50.70 838.46 L50.83 839.36 L50.97 839.58 L51.10 840.28 L51.23 840.74 L51.37 841.28 L51.50 842.07 L51.63 842.43 L51.77 843.50 L51.90 844.00 L52.03 844.88 L52.17 845.00 L52.30 845.57 L52.43 846.48 L52.57 847.58 L52.70 848.71 L52.83 849.42 L52.97 849.67 L53.10 850.19 L53.23 850.39 L53.37 851.20 L53.50 851.31 L53.63 851.61 L53.77 851.93 L53.90 852.56 L54.52 852.98 L55.15 852.70 L55.77 852.80 L56.40 852.32 L57.02 852.61 L57.65 852.01 L58.27 851.72 L58.90 851.54 L59.17 851.64 L59.44 851.55 L59.71 850.82 L59.98 849.77 L60.25 848.77 L60.52 847.99 L60.78 847.36 L61.05 847.12 L61.32 846.58 L61.59 846.54 L61.86 845.61 L62.13 844.89 L62.40 844.41 L63.02 844.22 L63.65 844.11 L64.28 843.37 L64.90 843.73 L65.53 843.71 L66.15 843.81 L66.78 843.41 L67.40 843.14 L68.01 843.57 L68.62 843.95 L69.24 844.68 L69.85 844.68 L70.46 844.79 L71.08 844.50 L71.69 844.27 L72.30 843.97 L72.49 843.34 L72.68 842.96 L72.87 842.43 L73.06 842.18 L73.25 841.66 L73.45 841.56 L73.64 840.94 L73.83 840.44 L74.02 839.34 L74.21 838.86 L74.40 838.33 L75.05 838.87 L75.69 838.95 L76.34 838.63 L76.98 838.26 L77.63 837.97 L78.27 838.47 L78.92 838.72 L79.56 838.78 L80.21 838.74 L80.85 838.35 L81.50 838.63 L82.05 838.59 L82.59 839.14 L83.14 838.77 L83.68 839.26 L84.23 839.75 L84.78 840.39 L85.32 840.41 L85.87 840.70 L86.42 840.54 L86.96 841.11 L87.51 841.33 L88.05 841.79 L88.60 842.24 L89.07 842.60 L89.53 842.90 L90.00 843.20 L90.47 843.15 L90.93 843.67 L91.40 843.96 L91.87 844.68 L92.33 845.42 L92.80 845.45 L93.27 845.73 L93.73 845.71 L94.20 846.47 L94.67 847.12 L95.13 847.49 L95.60 848.10 L96.07 848.65 L96.53 849.11 L97.00 849.00" stroke="#00ee00" stroke-width="1.35" fill="none" stroke-linejoin="round" stroke-linecap="round"/>
<path d="M97.00 849.00 L98.40 849.00 L98.60 703.10" stroke="#00ee00" stroke-width="1.35" fill="none" stroke-linejoin="round" stroke-linecap="round"/>
<path d="M98.60 703.10 L98.64 703.04 L98.71 702.92 L98.82 702.73 L98.97 702.49 L99.16 702.19 L99.39 701.82 L99.65 701.39 L99.95 700.91 L100.30 700.43 L100.70 699.96 L101.14 699.50 L101.63 699.05 L102.18 698.61 L102.77 698.18 L103.41 697.76 L104.09 697.34 L104.87 696.93 L105.73 696.52 L106.67 696.11 L107.70 695.69 L108.82 695.28 L110.02 694.87 L111.31 694.46 L112.69 694.04 L114.15 693.66 L115.70 693.30 L117.33 692.97 L119.05 692.66 L120.85 692.38 L122.74 692.13 L124.72 691.90 L126.78 691.70 L128.99 691.51 L131.35 691.33 L133.86 691.17 L136.52 691.01 L139.32 690.86 L142.27 690.73 L145.38 690.61 L148.62 690.49 L152.09 690.39 L155.78 690.29 L159.69 690.19 L163.81 690.11 L168.16 690.02 L172.72 689.95 L177.50 689.88 L182.50 689.82 L188.34 689.76 L195.03 689.70 L202.56 689.65 L210.94 689.60 L220.16 689.55 L230.22 689.51 L241.12 689.47 L252.88 689.43 L263.16 689.40 L271.97 689.37 L279.31 689.35 L285.19 689.33 L289.59 689.31 L292.53 689.30 L294.00 689.30" stroke="#00ee00" stroke-width="1.35" fill="none" stroke-linejoin="round" stroke-linecap="round"/>
<path d="M31.60 680.30 L39.60 680.30 L39.80 809.40" stroke="#ff00ff" stroke-width="1.35" fill="none" stroke-linejoin="round" stroke-linecap="round"/>
<path d="M39.80 809.40 L39.90 809.15 L40.00 808.62 L40.10 808.05 L40.20 807.50 L40.30 806.92 L40.40 806.16 L40.50 805.81 L40.60 804.69 L40.70 803.67 L40.80 803.18 L40.90 803.11 L41.00 802.58 L41.10 801.79 L41.20 800.76 L41.48 800.28 L41.75 799.51 L42.03 799.01 L42.31 798.30 L42.58 797.80 L42.86 797.57 L43.14 797.16 L43.42 796.72 L43.69 796.43 L43.97 795.69 L44.25 794.85 L44.52 793.64 L44.80 793.56 L44.95 794.26 L45.09 795.11 L45.24 795.38 L45.39 796.25 L45.54 797.09 L45.68 797.83 L45.83 798.46 L45.98 798.66 L46.13 799.18 L46.27 799.87 L46.42 800.46 L46.57 800.91 L46.72 800.81 L46.86 801.74 L47.01 802.84 L47.16 803.45 L47.31 803.90 L47.45 804.18 L47.60 804.98 L47.97 805.27 L48.35 805.73 L48.72 806.07 L49.09 807.05 L49.47 807.39 L49.84 808.16 L50.21 808.42 L50.59 809.24 L50.96 809.66 L51.33 810.05 L51.71 810.73 L52.08 810.98 L52.45 811.21 L52.83 811.21 L53.20 812.11 L53.67 812.66 L54.14 813.12 L54.62 813.01 L55.09 813.18 L55.56 813.76 L56.03 814.27 L56.51 814.90 L56.98 814.98 L57.45 815.43 L57.92 815.62 L58.39 816.51 L58.87 817.13 L59.34 817.74 L59.81 817.62 L60.28 818.17 L60.76 818.62 L61.23 818.93 L61.70 818.83 L62.27 819.33 L62.84 819.68 L63.41 820.07 L63.98 819.64 L64.55 820.26 L65.12 820.35 L65.69 820.91 L66.26 821.00 L66.83 821.43 L67.40 821.50 L68.02 821.20 L68.64 821.36 L69.26 821.32 L69.88 821.63 L70.49 821.87 L71.11 822.41 L71.73 822.49 L72.35 822.27 L72.97 821.74 L73.59 821.89 L74.21 822.17 L74.83 822.35 L75.44 821.83 L76.06 821.59 L76.68 821.70 L77.30 822.33 L77.94 822.44 L78.57 822.37 L79.21 822.07 L79.85 821.80 L80.48 821.91 L81.12 821.93 L81.75 822.00 L82.39 821.60 L83.03 821.66 L83.66 821.15 L84.30 821.12 L84.77 820.52 L85.25 820.09 L85.72 819.94 L86.20 819.36 L86.67 819.18 L87.15 818.38 L87.62 818.02 L88.10 817.79 L88.58 817.36 L89.05 817.29 L89.53 817.18 L90.00 817.13 L90.58 816.68 L91.17 816.33 L91.75 816.19 L92.33 816.04 L92.92 815.55 L93.50 815.22 L94.08 814.76 L94.67 814.25 L95.25 814.21 L95.83 814.20 L96.42 813.89 L97.00 813.70" stroke="#ff00ff" stroke-width="1.35" fill="none" stroke-linejoin="round" stroke-linecap="round"/>
<path d="M97.00 813.70 L98.40 813.70 L98.60 703.10" stroke="#ff00ff" stroke-width="1.35" fill="none" stroke-linejoin="round" stroke-linecap="round"/>
<path d="M98.60 703.10 L98.64 703.04 L98.71 702.92 L98.82 702.73 L98.97 702.49 L99.16 702.19 L99.39 701.82 L99.65 701.39 L99.95 700.91 L100.30 700.43 L100.70 699.96 L101.14 699.50 L101.63 699.05 L102.18 698.61 L102.77 698.18 L103.41 697.76 L104.09 697.34 L104.87 696.93 L105.73 696.52 L106.67 696.11 L107.70 695.69 L108.82 695.28 L110.02 694.87 L111.31 694.46 L112.69 694.04 L114.15 693.66 L115.70 693.30 L117.33 692.97 L119.05 692.66 L120.85 692.38 L122.74 692.13 L124.72 691.90 L126.78 691.70 L128.99 691.51 L131.35 691.33 L133.86 691.17 L136.52 691.01 L139.32 690.86 L142.27 690.73 L145.38 690.61 L148.62 690.49 L152.09 690.39 L155.78 690.29 L159.69 690.19 L163.81 690.11 L168.16 690.02 L172.72 689.95 L177.50 689.88 L182.50 689.82 L188.34 689.76 L195.03 689.70 L202.56 689.65 L210.94 689.60 L220.16 689.55 L230.22 689.51 L241.12 689.47 L252.88 689.43 L263.16 689.40 L271.97 689.37 L279.31 689.35 L285.19 689.33 L289.59 689.31 L292.53 689.30 L294.00 689.30" stroke="#ff00ff" stroke-width="1.35" fill="none" stroke-linejoin="round" stroke-linecap="round"/>
<path d="M31.60 680.30 L39.60 680.30 L39.80 793.90" stroke="#0000ff" stroke-width="1.35" fill="none" stroke-linejoin="round" stroke-linecap="round"/>
<path d="M39.80 793.90 L40.08 794.33 L40.35 794.89 L40.63 795.74 L40.91 795.95 L41.18 796.45 L41.46 796.68 L41.74 797.30 L42.02 798.27 L42.29 799.19 L42.57 800.20 L42.85 800.73 L43.12 800.94 L43.40 801.44 L43.68 801.89 L43.96 802.18 L44.24 802.23 L44.52 803.05 L44.80 803.52 L45.08 804.39 L45.36 804.57 L45.64 805.29 L45.92 805.48 L46.20 805.96 L46.78 806.27 L47.37 806.44 L47.95 807.16 L48.53 807.32 L49.12 807.78 L49.70 807.75 L50.28 808.03 L50.87 808.25 L51.45 808.51 L52.03 808.83 L52.62 809.22 L53.20 809.36 L53.68 809.73 L54.15 809.86 L54.62 809.69 L55.10 810.13 L55.58 810.55 L56.05 811.14 L56.52 811.13 L57.00 811.65 L57.48 812.32 L57.95 812.66 L58.42 812.99 L58.90 813.13 L59.52 813.35 L60.14 813.60 L60.77 813.48 L61.39 813.81 L62.01 813.44 L62.63 813.53 L63.26 813.03 L63.88 813.43 L64.50 813.58 L65.07 813.74 L65.63 813.37 L66.20 813.43 L66.77 812.78 L67.33 812.20 L67.90 811.85 L68.47 811.84 L69.03 811.57 L69.60 811.47 L70.17 811.34 L70.73 811.53 L71.30 811.05 L71.87 811.04 L72.43 810.40 L73.00 810.10 L73.63 809.65 L74.27 809.92 L74.90 810.01 L75.53 809.81 L76.17 809.26 L76.80 809.13 L77.43 809.27 L78.07 809.33 L78.70 809.25 L79.32 808.90 L79.94 808.86 L80.57 808.64 L81.19 808.76 L81.81 809.12 L82.43 808.99 L83.06 808.97 L83.68 808.65 L84.30 809.01 L84.77 808.86 L85.25 808.58 L85.72 808.24 L86.19 807.93 L86.67 807.55 L87.14 807.25 L87.61 806.86 L88.09 806.19 L88.56 805.72 L89.03 805.27 L89.51 805.60 L89.98 805.24 L90.45 804.64 L90.93 803.83 L91.40 803.40 L91.83 803.51 L92.26 802.99 L92.69 802.47 L93.12 802.00 L93.55 801.70 L93.98 801.41 L94.42 800.44 L94.85 800.17 L95.28 799.41 L95.71 799.42 L96.14 799.15 L96.57 799.22 L97.00 798.10" stroke="#0000ff" stroke-width="1.35" fill="none" stroke-linejoin="round" stroke-linecap="round"/>
<path d="M97.00 798.10 L98.40 798.10 L98.60 703.10" stroke="#0000ff" stroke-width="1.35" fill="none" stroke-linejoin="round" stroke-linecap="round"/>
<path d="M98.60 703.10 L98.64 703.04 L98.71 702.92 L98.82 702.73 L98.97 702.49 L99.16 702.19 L99.39 701.82 L99.65 701.39 L99.95 700.91 L100.30 700.43 L100.70 699.96 L101.14 699.50 L101.63 699.05 L102.18 698.61 L102.77 698.18 L103.41 697.76 L104.09 697.34 L104.87 696.93 L105.73 696.52 L106.67 696.11 L107.70 695.69 L108.82 695.28 L110.02 694.87 L111.31 694.46 L112.69 694.04 L114.15 693.66 L115.70 693.30 L117.33 692.97 L119.05 692.66 L120.85 692.38 L122.74 692.13 L124.72 691.90 L126.78 691.70 L128.99 691.51 L131.35 691.33 L133.86 691.17 L136.52 691.01 L139.32 690.86 L142.27 690.73 L145.38 690.61 L148.62 690.49 L152.09 690.39 L155.78 690.29 L159.69 690.19 L163.81 690.11 L168.16 690.02 L172.72 689.95 L177.50 689.88 L182.50 689.82 L188.34 689.76 L195.03 689.70 L202.56 689.65 L210.94 689.60 L220.16 689.55 L230.22 689.51 L241.12 689.47 L252.88 689.43 L263.16 689.40 L271.97 689.37 L279.31 689.35 L285.19 689.33 L289.59 689.31 L292.53 689.30 L294.00 689.30" stroke="#0000ff" stroke-width="1.35" fill="none" stroke-linejoin="round" stroke-linecap="round"/>
<path d="M31.60 680.30 L39.60 680.30 L39.80 797.40" stroke="#000000" stroke-width="1.35" fill="none" stroke-linejoin="round" stroke-linecap="round"/>
<path d="M39.80 797.40 L39.89 798.15 L39.98 798.65 L40.07 799.26 L40.16 799.55 L40.25 800.68 L40.34 801.08 L40.43 802.12 L40.52 802.92 L40.61 803.34 L40.70 803.40 L40.79 803.87 L40.88 804.59 L40.97 805.54 L41.06 805.58 L41.15 806.23 L41.24 806.48 L41.33 807.46 L41.42 808.21 L41.51 809.32 L41.60 809.70 L41.69 810.37 L41.78 810.67 L41.87 811.59 L41.96 812.15 L42.05 813.08 L42.14 813.73 L42.23 813.87 L42.32 813.89 L42.41 814.17 L42.50 814.80 L42.59 815.69 L42.68 816.71 L42.77 817.46 L42.86 818.44 L42.95 818.57 L43.04 819.11 L43.13 819.33 L43.22 820.14 L43.31 820.81 L43.39 821.18 L43.48 821.52 L43.57 822.22 L43.66 822.74 L43.75 823.89 L43.84 824.32 L43.93 825.60 L44.02 825.90 L44.11 826.92 L44.20 826.93 L44.29 827.29 L44.38 827.20 L44.47 828.22 L44.56 828.88 L44.65 830.13 L44.74 830.33 L44.83 830.68 L44.92 830.98 L45.01 831.93 L45.10 833.07 L45.19 833.77 L45.28 834.11 L45.37 834.21 L45.46 834.74 L45.55 835.54 L45.64 836.53 L45.73 836.76 L45.82 837.31 L45.91 838.04 L46.00 839.16 L46.09 839.53 L46.18 840.18 L46.27 840.84 L46.36 841.57 L46.45 842.00 L46.54 842.07 L46.63 842.52 L46.72 842.86 L46.81 844.02 L46.90 844.82 L47.10 844.46 L47.30 843.67 L47.50 843.12 L47.70 842.37 L47.90 841.86 L48.10 841.31 L48.30 840.63 L48.72 840.14 L49.14 839.76 L49.56 839.33 L49.98 838.14 L50.40 837.50 L50.68 836.74 L50.96 836.71 L51.24 836.08 L51.52 835.99 L51.80 835.48 L52.08 834.71 L52.36 833.71 L52.64 833.13 L52.92 832.70 L53.20 832.47 L53.56 831.81 L53.92 831.50 L54.28 830.94 L54.63 830.46 L54.99 829.78 L55.35 829.46 L55.71 828.90 L56.07 828.14 L56.42 827.40 L56.78 826.45 L57.14 825.94 L57.50 825.37 L58.06 825.75 L58.62 825.81 L59.18 826.25 L59.74 826.67 L60.30 826.90 L60.49 827.22 L60.68 827.93 L60.87 829.24 L61.06 829.92 L61.25 830.25 L61.45 830.51 L61.64 830.78 L61.83 831.59 L62.02 832.36 L62.21 832.83 L62.40 833.49 L62.96 833.60 L63.51 834.43 L64.07 834.35 L64.62 834.15 L65.18 833.90 L65.73 833.96 L66.29 834.76 L66.84 835.53 L67.40 836.25 L68.04 835.96 L68.67 835.94 L69.31 835.93 L69.95 836.39 L70.58 836.49 L71.22 836.89 L71.85 837.07 L72.49 837.14 L73.13 836.89 L73.76 836.54 L74.40 836.28 L75.01 836.27 L75.63 835.90 L76.24 835.93 L76.86 835.80 L77.47 835.88 L78.09 835.61 L78.70 835.16 L79.28 835.13 L79.86 835.29 L80.45 834.82 L81.03 834.62 L81.61 833.85 L82.19 834.02 L82.78 833.67 L83.36 833.91 L83.94 833.76 L84.52 833.96 L85.11 833.98 L85.69 833.58 L86.27 832.77 L86.85 831.90 L87.44 831.88 L88.02 831.75 L88.60 832.20 L89.00 831.32 L89.40 831.32 L89.80 830.77 L90.20 830.17 L90.60 829.46 L91.00 828.81 L91.40 828.59 L91.80 828.31 L92.20 827.70 L92.60 827.32 L93.00 826.81 L93.40 826.63 L93.80 826.42 L94.20 825.91 L94.60 824.91 L95.00 824.10 L95.40 823.32 L95.80 823.29 L96.20 823.06 L96.60 823.13 L97.00 822.10" stroke="#000000" stroke-width="1.35" fill="none" stroke-linejoin="round" stroke-linecap="round"/>
<path d="M97.00 822.10 L98.40 822.10 L98.60 703.10" stroke="#000000" stroke-width="1.35" fill="none" stroke-linejoin="round" stroke-linecap="round"/>
<path d="M98.60 703.10 L98.64 703.04 L98.71 702.92 L98.82 702.73 L98.97 702.49 L99.16 702.19 L99.39 701.82 L99.65 701.39 L99.95 700.91 L100.30 700.43 L100.70 699.96 L101.14 699.50 L101.63 699.05 L102.18 698.61 L102.77 698.18 L103.41 697.76 L104.09 697.34 L104.87 696.93 L105.73 696.52 L106.67 696.11 L107.70 695.69 L108.82 695.28 L110.02 694.87 L111.31 694.46 L112.69 694.04 L114.15 693.66 L115.70 693.30 L117.33 692.97 L119.05 692.66 L120.85 692.38 L122.74 692.13 L124.72 691.90 L126.78 691.70 L128.99 691.51 L131.35 691.33 L133.86 691.17 L136.52 691.01 L139.32 690.86 L142.27 690.73 L145.38 690.61 L148.62 690.49 L152.09 690.39 L155.78 690.29 L159.69 690.19 L163.81 690.11 L168.16 690.02 L172.72 689.95 L177.50 689.88 L182.50 689.82 L188.34 689.76 L195.03 689.70 L202.56 689.65 L210.94 689.60 L220.16 689.55 L230.22 689.51 L241.12 689.47 L252.88 689.43 L263.16 689.40 L271.97 689.37 L279.31 689.35 L285.19 689.33 L289.59 689.31 L292.53 689.30 L294.00 689.30" stroke="#000000" stroke-width="1.35" fill="none" stroke-linejoin="round" stroke-linecap="round"/>
<path d="M369.20 843.10 L369.33 843.10 L369.60 843.10 L370.01 843.10 L370.54 843.10 L371.22 843.10 L372.02 843.10 L372.96 843.10 L374.04 843.10 L375.02 843.04 L375.90 842.91 L376.69 842.72 L377.38 842.46 L377.98 842.14 L378.49 841.75 L378.89 841.31 L379.21 840.79 L379.51 840.25 L379.82 839.68 L380.12 839.08 L380.41 838.45 L380.70 837.79 L380.98 837.10 L381.26 836.38 L381.54 835.62 L381.85 834.72 L382.20 833.66 L382.60 832.44 L383.03 831.06 L383.50 829.53 L384.01 827.84 L384.56 826.00 L385.14 824.00 L385.79 821.80 L386.51 819.39 L387.28 816.78 L388.12 813.97 L389.02 810.95 L389.98 807.73 L391.01 804.31 L392.09 800.69 L393.18 797.19 L394.26 793.82 L395.35 790.58 L396.43 787.47 L397.51 784.48 L398.59 781.63 L399.66 778.90 L400.74 776.30 L401.88 773.45 L403.10 770.34 L404.39 766.97 L405.76 763.35 L407.19 759.48 L408.70 755.35 L410.28 750.97 L411.92 746.33 L413.55 741.79 L415.15 737.34 L416.73 732.98 L418.29 728.72 L419.82 724.55 L421.33 720.48 L422.82 716.49 L424.28 712.61 L425.68 708.92 L427.02 705.44 L428.29 702.16 L429.51 699.09 L430.66 696.22 L431.74 693.55 L432.77 691.08 L433.73 688.82 L434.65 686.74 L435.54 684.84 L436.38 683.12 L437.19 681.58 L437.96 680.23 L438.69 679.05 L439.38 678.06 L440.03 677.24 L440.68 676.51 L441.32 675.86 L441.97 675.29 L442.62 674.81 L443.28 674.40 L443.93 674.08 L444.58 673.83 L445.22 673.67 L445.91 673.54 L446.63 673.44 L447.39 673.37 L448.18 673.33 L449.01 673.33 L449.88 673.35 L450.78 673.41 L451.72 673.49 L452.80 673.60 L454.03 673.73 L455.40 673.89 L456.92 674.06 L458.59 674.26 L460.40 674.48 L462.35 674.72 L464.45 674.98 L467.04 675.29 L470.12 675.64 L473.69 676.03 L477.76 676.47 L482.31 676.95 L487.35 677.47 L492.89 678.04 L498.91 678.66 L505.05 679.31 L511.29 680.01 L517.63 680.76 L524.09 681.54 L530.65 682.37 L537.33 683.25 L544.11 684.17 L550.99 685.13 L557.90 686.09 L564.82 687.04 L571.75 687.98 L578.70 688.92 L585.67 689.85 L592.65 690.78 L599.64 691.69 L606.66 692.61 L612.79 693.40 L618.05 694.09 L622.43 694.66 L625.94 695.12 L628.57 695.46 L630.32 695.69 L631.20 695.80" stroke="#00ee00" stroke-width="1.35" fill="none" stroke-linejoin="round" stroke-linecap="round"/>
<path d="M369.20 843.10 L369.33 843.10 L369.60 843.10 L370.01 843.10 L370.54 843.10 L371.22 843.10 L372.02 843.10 L372.96 843.10 L374.04 843.10 L375.02 843.03 L375.90 842.88 L376.69 842.67 L377.38 842.38 L377.98 842.02 L378.49 841.59 L378.89 841.09 L379.21 840.51 L379.51 839.91 L379.82 839.27 L380.12 838.61 L380.41 837.92 L380.70 837.19 L380.98 836.44 L381.26 835.66 L381.54 834.84 L381.85 833.88 L382.20 832.75 L382.60 831.47 L383.03 830.03 L383.50 828.44 L384.01 826.69 L384.56 824.78 L385.14 822.72 L385.79 820.46 L386.51 817.99 L387.28 815.33 L388.12 812.47 L389.02 809.41 L389.98 806.14 L391.01 802.68 L392.09 799.02 L393.18 795.46 L394.26 792.02 L395.35 788.68 L396.43 785.45 L397.51 782.32 L398.59 779.31 L399.66 776.40 L400.74 773.60 L401.84 770.66 L402.98 767.59 L404.15 764.38 L405.35 761.04 L406.58 757.56 L407.84 753.95 L409.14 750.19 L410.46 746.31 L411.80 742.42 L413.16 738.53 L414.54 734.64 L415.93 730.76 L417.35 726.87 L418.77 722.98 L420.22 719.09 L421.68 715.21 L423.08 711.50 L424.42 707.98 L425.69 704.64 L426.91 701.48 L428.06 698.51 L429.14 695.72 L430.17 693.11 L431.13 690.69 L432.05 688.44 L432.94 686.38 L433.78 684.50 L434.59 682.80 L435.36 681.28 L436.09 679.94 L436.78 678.79 L437.42 677.81 L438.07 676.92 L438.72 676.11 L439.38 675.38 L440.03 674.72 L440.68 674.16 L441.32 673.67 L441.97 673.26 L442.62 672.94 L443.27 672.67 L443.93 672.47 L444.57 672.33 L445.22 672.25 L445.88 672.23 L446.53 672.27 L447.18 672.37 L447.82 672.53 L448.47 672.70 L449.11 672.88 L449.75 673.08 L450.38 673.28 L451.00 673.48 L451.63 673.70 L452.24 673.93 L452.86 674.17 L453.65 674.46 L454.64 674.80 L455.81 675.19 L457.17 675.63 L458.71 676.13 L460.44 676.68 L462.35 677.28 L464.45 677.92 L466.65 678.63 L468.95 679.39 L471.35 680.21 L473.85 681.09 L476.45 682.02 L479.15 683.01 L481.95 684.05 L484.85 685.15 L487.78 686.22 L490.73 687.26 L493.72 688.26 L496.73 689.24 L499.77 690.18 L502.84 691.09 L505.94 691.98 L509.06 692.83 L512.66 693.81 L516.72 694.94 L521.26 696.21 L526.27 697.62 L531.74 699.16 L537.69 700.85 L544.11 702.67 L550.99 704.63 L557.90 706.59 L564.82 708.55 L571.75 710.51 L578.70 712.47 L585.67 714.42 L592.65 716.37 L599.64 718.32 L606.66 720.28 L612.79 721.98 L618.05 723.44 L622.43 724.66 L625.94 725.64 L628.57 726.37 L630.32 726.86 L631.20 727.10" stroke="#000000" stroke-width="1.35" fill="none" stroke-linejoin="round" stroke-linecap="round"/>
<path d="M369.20 843.10 L369.33 843.10 L369.60 843.10 L370.01 843.10 L370.54 843.10 L371.22 843.10 L372.02 843.10 L372.96 843.10 L374.04 843.10 L375.01 843.02 L375.89 842.86 L376.66 842.62 L377.34 842.30 L377.91 841.90 L378.39 841.43 L378.76 840.87 L379.04 840.23 L379.31 839.56 L379.58 838.87 L379.85 838.14 L380.12 837.38 L380.39 836.60 L380.65 835.78 L380.92 834.94 L381.18 834.06 L381.49 833.00 L381.85 831.75 L382.25 830.31 L382.70 828.69 L383.20 826.88 L383.74 824.88 L384.33 822.69 L384.97 820.31 L385.66 817.75 L386.41 815.00 L387.22 812.06 L388.08 808.94 L389.00 805.62 L389.97 802.12 L391.01 798.44 L392.09 794.56 L393.32 790.34 L394.70 785.76 L396.22 780.83 L397.88 775.55 L399.69 769.91 L401.64 763.93 L403.73 757.59 L405.97 750.91 L408.09 744.63 L410.09 738.76 L411.98 733.31 L413.75 728.27 L415.40 723.63 L416.93 719.41 L418.35 715.60 L419.65 712.20 L420.91 708.96 L422.13 705.89 L423.31 702.97 L424.44 700.22 L425.54 697.64 L426.60 695.21 L427.61 692.95 L428.59 690.85 L429.52 688.83 L430.41 686.89 L431.26 685.03 L432.07 683.25 L432.83 681.55 L433.55 679.92 L434.23 678.38 L434.87 676.92 L435.51 675.57 L436.15 674.33 L436.79 673.21 L437.43 672.19 L438.08 671.29 L438.73 670.51 L439.38 669.83 L440.03 669.27 L440.68 668.78 L441.32 668.35 L441.97 668.00 L442.62 667.72 L443.28 667.51 L443.93 667.37 L444.58 667.30 L445.22 667.30 L445.91 667.35 L446.63 667.45 L447.39 667.60 L448.18 667.80 L449.01 668.05 L449.88 668.35 L450.78 668.70 L451.72 669.10 L452.80 669.52 L454.03 669.96 L455.40 670.42 L456.92 670.90 L458.59 671.40 L460.40 671.93 L462.35 672.47 L464.45 673.03 L466.65 673.66 L468.95 674.34 L471.35 675.09 L473.85 675.91 L476.45 676.78 L479.15 677.72 L481.95 678.72 L484.85 679.78 L487.78 680.81 L490.73 681.80 L493.72 682.76 L496.73 683.69 L499.77 684.58 L502.84 685.43 L505.94 686.26 L509.06 687.04 L512.66 687.94 L516.72 688.95 L521.26 690.07 L526.27 691.30 L531.74 692.65 L537.69 694.10 L544.11 695.66 L550.99 697.34 L557.90 698.96 L564.82 700.53 L571.75 702.05 L578.70 703.52 L585.67 704.94 L592.65 706.30 L599.64 707.62 L606.66 708.88 L612.79 709.99 L618.05 710.93 L622.43 711.72 L625.94 712.35 L628.57 712.83 L630.32 713.14 L631.20 713.30" stroke="#ff00ff" stroke-width="1.35" fill="none" stroke-linejoin="round" stroke-linecap="round"/>
<path d="M369.20 843.10 L369.33 843.10 L369.60 843.10 L370.01 843.10 L370.54 843.10 L371.22 843.10 L372.02 843.10 L372.96 843.10 L374.04 843.10 L375.01 843.02 L375.89 842.86 L376.66 842.62 L377.34 842.30 L377.91 841.90 L378.39 841.43 L378.76 840.87 L379.04 840.23 L379.31 839.56 L379.58 838.87 L379.85 838.14 L380.12 837.38 L380.39 836.60 L380.65 835.78 L380.92 834.94 L381.18 834.06 L381.49 833.00 L381.85 831.75 L382.25 830.31 L382.70 828.69 L383.20 826.88 L383.74 824.88 L384.33 822.69 L384.97 820.31 L385.66 817.75 L386.41 815.00 L387.22 812.06 L388.08 808.94 L389.00 805.62 L389.97 802.12 L391.01 798.44 L392.09 794.56 L393.32 790.34 L394.70 785.76 L396.22 780.83 L397.88 775.55 L399.69 769.91 L401.64 763.93 L403.73 757.59 L405.97 750.91 L408.09 744.63 L410.09 738.76 L411.98 733.31 L413.75 728.27 L415.40 723.63 L416.93 719.41 L418.35 715.60 L419.65 712.20 L420.91 708.96 L422.13 705.87 L423.31 702.95 L424.44 700.18 L425.54 697.57 L426.60 695.11 L427.61 692.82 L428.59 690.68 L429.51 688.64 L430.38 686.68 L431.20 684.82 L431.97 683.05 L432.69 681.38 L433.35 679.79 L433.97 678.30 L434.53 676.90 L435.05 675.61 L435.53 674.44 L435.97 673.38 L436.38 672.42 L436.73 671.59 L437.05 670.86 L437.33 670.25 L437.57 669.75 L437.88 669.27 L438.26 668.80 L438.71 668.35 L439.24 667.92 L439.83 667.51 L440.50 667.11 L441.24 666.73 L442.06 666.37 L442.92 666.10 L443.85 665.92 L444.83 665.83 L445.87 665.83 L446.96 665.92 L448.11 666.10 L449.32 666.37 L450.58 666.73 L451.95 667.12 L453.42 667.53 L455.00 667.97 L456.68 668.43 L458.46 668.92 L460.35 669.43 L462.35 669.97 L464.45 670.53 L466.65 671.16 L468.95 671.87 L471.35 672.64 L473.85 673.48 L476.45 674.40 L479.15 675.38 L481.95 676.44 L484.85 677.56 L487.78 678.66 L490.73 679.72 L493.72 680.75 L496.73 681.75 L499.77 682.72 L502.84 683.66 L505.94 684.56 L509.06 685.44 L512.66 686.40 L516.72 687.46 L521.26 688.62 L526.27 689.86 L531.74 691.20 L537.69 692.62 L544.11 694.14 L550.99 695.76 L557.90 697.31 L564.82 698.80 L571.75 700.24 L578.70 701.61 L585.67 702.93 L592.65 704.18 L599.64 705.38 L606.66 706.52 L612.79 707.51 L618.05 708.37 L622.43 709.08 L625.94 709.65 L628.57 710.07 L630.32 710.36 L631.20 710.50" stroke="#0000ff" stroke-width="1.35" fill="none" stroke-linejoin="round" stroke-linecap="round"/>
<path d="M369.20 843.10 L369.33 843.10 L369.60 843.10 L370.01 843.10 L370.54 843.10 L371.22 843.10 L372.02 843.10 L372.96 843.10 L374.04 843.10 L375.01 843.02 L375.89 842.86 L376.66 842.62 L377.34 842.30 L377.91 841.90 L378.39 841.43 L378.76 840.87 L379.04 840.23 L379.31 839.56 L379.58 838.87 L379.85 838.14 L380.12 837.38 L380.39 836.60 L380.65 835.78 L380.92 834.94 L381.18 834.06 L381.49 833.00 L381.85 831.75 L382.25 830.31 L382.70 828.69 L383.20 826.88 L383.74 824.88 L384.33 822.69 L384.97 820.31 L385.66 817.75 L386.41 815.00 L387.22 812.06 L388.08 808.94 L389.00 805.62 L389.97 802.12 L391.01 798.44 L392.09 794.56 L393.32 790.34 L394.70 785.76 L396.22 780.83 L397.88 775.55 L399.69 769.91 L401.64 763.93 L403.73 757.59 L405.97 750.91 L408.09 744.63 L410.09 738.76 L411.98 733.31 L413.75 728.27 L415.40 723.63 L416.93 719.41 L418.35 715.60 L419.65 712.20 L420.91 708.95 L422.13 705.86 L423.31 702.93 L424.44 700.15 L425.54 697.52 L426.60 695.05 L427.61 692.73 L428.59 690.57 L429.51 688.47 L430.37 686.45 L431.18 684.48 L431.94 682.59 L432.64 680.76 L433.29 679.00 L433.88 677.31 L434.42 675.69 L434.92 674.19 L435.39 672.83 L435.83 671.60 L436.23 670.50 L436.59 669.53 L436.92 668.69 L437.22 667.99 L437.48 667.41 L437.81 666.85 L438.21 666.30 L438.68 665.75 L439.22 665.22 L439.82 664.70 L440.50 664.19 L441.24 663.69 L442.06 663.21 L442.85 662.78 L443.62 662.41 L444.37 662.11 L445.10 661.87 L445.81 661.68 L446.50 661.56 L447.18 661.50 L447.82 661.50 L448.47 661.52 L449.11 661.56 L449.75 661.62 L450.38 661.70 L451.00 661.80 L451.63 661.93 L452.24 662.07 L452.86 662.23 L453.65 662.42 L454.64 662.62 L455.81 662.85 L457.17 663.10 L458.71 663.37 L460.44 663.67 L462.35 663.98 L464.45 664.32 L466.65 664.69 L468.95 665.10 L471.35 665.55 L473.85 666.03 L476.45 666.55 L479.15 667.10 L481.95 667.69 L484.85 668.31 L487.78 668.95 L490.73 669.60 L493.72 670.25 L496.73 670.92 L499.77 671.60 L502.84 672.29 L505.94 672.99 L509.06 673.71 L512.66 674.49 L516.72 675.36 L521.26 676.29 L526.27 677.31 L531.74 678.39 L537.69 679.56 L544.11 680.79 L550.99 682.11 L557.90 683.41 L564.82 684.71 L571.75 686.01 L578.70 687.29 L585.67 688.58 L592.65 689.85 L599.64 691.12 L606.66 692.38 L612.79 693.49 L618.05 694.43 L622.43 695.22 L625.94 695.85 L628.57 696.33 L630.32 696.64 L631.20 696.80" stroke="#ff0000" stroke-width="1.35" fill="none" stroke-linejoin="round" stroke-linecap="round"/>
<rect x="186.90" y="15.10" width="80.10" height="30.50" fill="#fff" stroke="#c8c8c8" stroke-width="1"/>
<path d="M188.30 22.20H210.50" stroke="#000" stroke-width="1.4"/>
<text x="213.70" y="25.80" transform="translate(0 25.80) scale(1 1.1) translate(0 -25.80)" class="lg" style="font-size:10px" text-anchor="start">M_CF<tspan style="font-size:7.80px" dy="2.80">00</tspan><tspan dy="-2.80"> EX</tspan></text>
<path d="M188.30 36.30H210.50" stroke="#ff0000" stroke-width="1.4"/>
<text x="213.70" y="39.90" transform="translate(0 39.90) scale(1 1.1) translate(0 -39.90)" class="lg" style="font-size:10px" text-anchor="start">M_CF<tspan style="font-size:7.80px" dy="2.80">20</tspan><tspan dy="-2.80"> EX</tspan></text>
<rect x="538.00" y="15.00" width="82.70" height="32.00" fill="#fff" stroke="#c8c8c8" stroke-width="1"/>
<path d="M539.30 22.60H562.40" stroke="#000" stroke-width="1.4"/>
<text x="565.40" y="26.20" transform="translate(0 26.20) scale(1 1.1) translate(0 -26.20)" class="lg" style="font-size:10px" text-anchor="start">M_CF<tspan style="font-size:7.80px" dy="2.80">00</tspan><tspan dy="-2.80"> EX</tspan></text>
<path d="M539.30 38.20H562.40" stroke="#ff0000" stroke-width="1.4"/>
<text x="565.40" y="41.80" transform="translate(0 41.80) scale(1 1.1) translate(0 -41.80)" class="lg" style="font-size:10px" text-anchor="start">M_CF<tspan style="font-size:7.80px" dy="2.80">20</tspan><tspan dy="-2.80"> EX</tspan></text>
<text x="224.80" y="344.40" transform="translate(0 344.40) scale(1 1.1) translate(0 -344.40)" class="lg" style="font-size:10.95px" text-anchor="start">M_CF<tspan style="font-size:8.54px" dy="3.07">00</tspan><tspan dy="-3.07"> EX</tspan></text>
<rect x="223.60" y="353.20" width="60.80" height="66.80" fill="#fff" stroke="#c8c8c8" stroke-width="1"/>
<path d="M225.30 361.00H249.20" stroke="#ff2020" stroke-width="1.4"/>
<text x="252.20" y="364.60" transform="translate(0 364.60) scale(1 1.08) translate(0 -364.60)" class="lg">Bank 1</text>
<path d="M225.30 373.80H249.20" stroke="#20ff20" stroke-width="1.4"/>
<text x="252.20" y="377.40" transform="translate(0 377.40) scale(1 1.08) translate(0 -377.40)" class="lg">Bank 2</text>
<path d="M225.30 386.60H249.20" stroke="#2020ff" stroke-width="1.4"/>
<text x="252.20" y="390.20" transform="translate(0 390.20) scale(1 1.08) translate(0 -390.20)" class="lg">Bank 3</text>
<path d="M225.30 399.40H249.20" stroke="#ff20ff" stroke-width="1.4"/>
<text x="252.20" y="403.00" transform="translate(0 403.00) scale(1 1.08) translate(0 -403.00)" class="lg">Bank 4</text>
<path d="M225.30 412.20H249.20" stroke="#000" stroke-width="1.4"/>
<text x="252.20" y="415.80" transform="translate(0 415.80) scale(1 1.08) translate(0 -415.80)" class="lg">Bank 5</text>
<text x="559.70" y="344.50" transform="translate(0 344.50) scale(1 1.1) translate(0 -344.50)" class="lg" style="font-size:10.95px" text-anchor="start">M_CF<tspan style="font-size:8.54px" dy="3.07">00</tspan><tspan dy="-3.07"> EX</tspan></text>
<rect x="559.00" y="354.30" width="60.20" height="66.70" fill="#fff" stroke="#c8c8c8" stroke-width="1"/>
<path d="M560.50 361.80H584.10" stroke="#ff2020" stroke-width="1.4"/>
<text x="587.00" y="365.40" transform="translate(0 365.40) scale(1 1.08) translate(0 -365.40)" class="lg">Bank 1</text>
<path d="M560.50 374.70H584.10" stroke="#20ff20" stroke-width="1.4"/>
<text x="587.00" y="378.30" transform="translate(0 378.30) scale(1 1.08) translate(0 -378.30)" class="lg">Bank 2</text>
<path d="M560.50 387.80H584.10" stroke="#2020ff" stroke-width="1.4"/>
<text x="587.00" y="391.40" transform="translate(0 391.40) scale(1 1.08) translate(0 -391.40)" class="lg">Bank 3</text>
<path d="M560.50 401.00H584.10" stroke="#ff20ff" stroke-width="1.4"/>
<text x="587.00" y="404.60" transform="translate(0 404.60) scale(1 1.08) translate(0 -404.60)" class="lg">Bank 4</text>
<path d="M560.50 414.30H584.10" stroke="#000" stroke-width="1.4"/>
<text x="587.00" y="417.90" transform="translate(0 417.90) scale(1 1.08) translate(0 -417.90)" class="lg">Bank 5</text>
<text x="227.50" y="773.80" transform="translate(0 773.80) scale(1 1.1) translate(0 -773.80)" class="lg" style="font-size:10.95px" text-anchor="start">M_CF<tspan style="font-size:8.54px" dy="3.07">20</tspan><tspan dy="-3.07"> EX</tspan></text>
<rect x="226.40" y="786.40" width="60.70" height="67.00" fill="#fff" stroke="#c8c8c8" stroke-width="1"/>
<path d="M228.00 793.80H251.80" stroke="#ff2020" stroke-width="1.4"/>
<text x="254.60" y="797.40" transform="translate(0 797.40) scale(1 1.08) translate(0 -797.40)" class="lg">Bank 1</text>
<path d="M228.00 806.80H251.80" stroke="#20ff20" stroke-width="1.4"/>
<text x="254.60" y="810.40" transform="translate(0 810.40) scale(1 1.08) translate(0 -810.40)" class="lg">Bank 2</text>
<path d="M228.00 820.00H251.80" stroke="#2020ff" stroke-width="1.4"/>
<text x="254.60" y="823.60" transform="translate(0 823.60) scale(1 1.08) translate(0 -823.60)" class="lg">Bank 3</text>
<path d="M228.00 833.00H251.80" stroke="#ff20ff" stroke-width="1.4"/>
<text x="254.60" y="836.60" transform="translate(0 836.60) scale(1 1.08) translate(0 -836.60)" class="lg">Bank 4</text>
<path d="M228.00 846.00H251.80" stroke="#000" stroke-width="1.4"/>
<text x="254.60" y="849.60" transform="translate(0 849.60) scale(1 1.08) translate(0 -849.60)" class="lg">Bank 5</text>
<text x="556.60" y="771.20" transform="translate(0 771.20) scale(1 1.1) translate(0 -771.20)" class="lg" style="font-size:10.95px" text-anchor="start">M_CF<tspan style="font-size:8.54px" dy="3.07">20</tspan><tspan dy="-3.07"> EX</tspan></text>
<rect x="555.40" y="784.30" width="60.10" height="66.70" fill="#fff" stroke="#c8c8c8" stroke-width="1"/>
<path d="M556.60 791.40H580.20" stroke="#ff2020" stroke-width="1.4"/>
<text x="583.30" y="795.00" transform="translate(0 795.00) scale(1 1.08) translate(0 -795.00)" class="lg">Bank 1</text>
<path d="M556.60 804.70H580.20" stroke="#20ff20" stroke-width="1.4"/>
<text x="583.30" y="808.30" transform="translate(0 808.30) scale(1 1.08) translate(0 -808.30)" class="lg">Bank 2</text>
<path d="M556.60 817.80H580.20" stroke="#2020ff" stroke-width="1.4"/>
<text x="583.30" y="821.40" transform="translate(0 821.40) scale(1 1.08) translate(0 -821.40)" class="lg">Bank 3</text>
<path d="M556.60 830.60H580.20" stroke="#ff20ff" stroke-width="1.4"/>
<text x="583.30" y="834.20" transform="translate(0 834.20) scale(1 1.08) translate(0 -834.20)" class="lg">Bank 4</text>
<path d="M556.60 844.00H580.20" stroke="#000" stroke-width="1.4"/>
<text x="583.30" y="847.60" transform="translate(0 847.60) scale(1 1.08) translate(0 -847.60)" class="lg">Bank 5</text>
<text x="14.50" y="111.30" transform="rotate(-90 14.50 111.30)" text-anchor="middle" class="ax" style="font-size:10.5px">Module Voltage [V]</text>
<text x="340.50" y="116.70" transform="rotate(-90 340.50 116.70)" text-anchor="middle" class="ax" style="font-size:10.5px">External Current [A]</text>
<text x="8.50" y="434.00" transform="rotate(-90 8.50 434.00)" text-anchor="middle" class="ax" style="font-size:10.5px">Bank Voltages [V]</text>
<text x="341.00" y="434.00" transform="rotate(-90 341.00 434.00)" text-anchor="middle" class="ax" style="font-size:10.5px">Bank Temperatures [°C]</text>
<text x="11.40" y="753.80" transform="rotate(-90 11.40 753.80)" text-anchor="middle" class="ax" style="font-size:10.5px">Bank Voltages [V]</text>
<text x="345.90" y="750.80" transform="rotate(-90 345.90 750.80)" text-anchor="middle" class="ax" style="font-size:10.5px">Bank Temperatures [°C]</text>
<text x="162.50" y="245.00" text-anchor="middle" class="ax">Time [min]</text>
<text x="500.25" y="256.00" text-anchor="middle" class="ax">Time [min]</text>
<text x="162.50" y="572.60" text-anchor="middle" class="ax">Time [min]</text>
<text x="500.25" y="572.60" text-anchor="middle" class="ax">Time [min]</text>
<text x="162.70" y="889.60" text-anchor="middle" class="ax">Time [min]</text>
<text x="500.00" y="889.60" text-anchor="middle" class="ax">Time [min]</text>
<text x="158.00" y="288.00" text-anchor="middle" class="cap">(a)</text>
<text x="495.30" y="287.30" text-anchor="middle" class="cap">(b)</text>
<text x="158.20" y="604.30" text-anchor="middle" class="cap">(c)</text>
<text x="495.30" y="604.30" text-anchor="middle" class="cap">(d)</text>
<text x="158.20" y="921.00" text-anchor="middle" class="cap">(e)</text>
<text x="495.30" y="921.00" text-anchor="middle" class="cap">(f)</text>
</svg></body></html>
